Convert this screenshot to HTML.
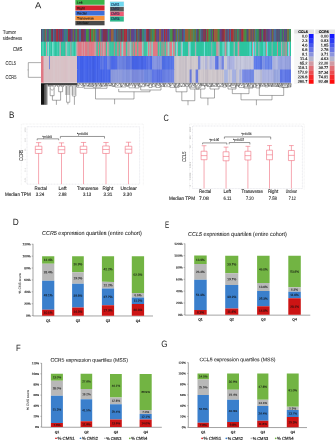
<!DOCTYPE html>
<html><head><meta charset="utf-8"><style>
html,body{margin:0;padding:0;background:#fff;width:336px;height:440px;overflow:hidden;}
svg{display:block;will-change:transform;}
text{font-family:"Liberation Sans", sans-serif;text-rendering:geometricPrecision;}
</style></head><body>
<svg width="336" height="440" viewBox="0 0 336 440">
<defs><linearGradient id="hg" x1="0" y1="0" x2="0" y2="1">
<stop offset="0" stop-color="#1a28ff"/><stop offset="0.5" stop-color="#c8c8d4"/><stop offset="1" stop-color="#ff1010"/></linearGradient>
<linearGradient id="dg" x1="0" y1="0" x2="1" y2="0"><stop offset="0" stop-color="#202020"/><stop offset="1" stop-color="#c0c0c0"/></linearGradient></defs>
<rect width="336" height="440" fill="#fff"/>
<g transform="matrix(1 0.0005 0 1 0 -0.08)">
<text x="35.00" y="8.30" font-size="8.8" fill="#222" textLength="6.30" lengthAdjust="spacingAndGlyphs">A</text>
<rect x="75.10" y="-1.00" width="29.70" height="26.50" fill="#e8e8e8"/>
<rect x="75.40" y="0.00" width="29.10" height="4.80" fill="#3cb54a"/>
<text x="76.90" y="3.70" font-size="3.4" fill="#1a1a1a" stroke="#1a1a1a" stroke-width="0.1">Left</text>
<rect x="75.40" y="5.60" width="29.10" height="5.00" fill="#d42530"/>
<text x="76.90" y="9.50" font-size="3.4" fill="#1a1a1a" stroke="#1a1a1a" stroke-width="0.1">Right</text>
<rect x="75.40" y="11.00" width="29.10" height="4.60" fill="#3d6fd8"/>
<text x="76.90" y="14.50" font-size="3.4" fill="#1a1a1a" stroke="#1a1a1a" stroke-width="0.1">Rectal</text>
<rect x="75.40" y="16.00" width="29.10" height="4.60" fill="#f6923c"/>
<text x="76.90" y="19.50" font-size="3.4" fill="#1a1a1a" stroke="#1a1a1a" stroke-width="0.1">Transverse</text>
<rect x="75.40" y="21.00" width="29.10" height="4.20" fill="#4a4a4a"/>
<text x="76.90" y="24.10" font-size="3.4" fill="#1a1a1a" stroke="#1a1a1a" stroke-width="0.1">Unclear</text>
<rect x="109.80" y="1.50" width="14.30" height="20.20" fill="#e8e8e8"/>
<rect x="110.10" y="1.80" width="13.70" height="4.80" fill="#70d8f0"/>
<text x="111.00" y="5.60" font-size="3.9" fill="#1a2a55" textLength="8.50" lengthAdjust="spacingAndGlyphs" stroke="#1a2a55" stroke-width="0.12">CMS1</text>
<rect x="110.10" y="7.00" width="13.70" height="4.40" fill="#5a5a5a"/>
<text x="111.00" y="10.40" font-size="3.9" fill="#1a2a55" textLength="8.50" lengthAdjust="spacingAndGlyphs" stroke="#1a2a55" stroke-width="0.12">CMS2</text>
<rect x="110.10" y="11.80" width="13.70" height="4.40" fill="#ee5a74"/>
<text x="111.00" y="15.20" font-size="3.9" fill="#1a2a55" textLength="8.50" lengthAdjust="spacingAndGlyphs" stroke="#1a2a55" stroke-width="0.12">CMS3</text>
<rect x="110.10" y="16.60" width="13.70" height="4.80" fill="#2cb98c"/>
<text x="111.00" y="20.40" font-size="3.9" fill="#1a2a55" textLength="8.50" lengthAdjust="spacingAndGlyphs" stroke="#1a2a55" stroke-width="0.12">CMS4</text>
<text x="2.70" y="33.90" font-size="5.6" fill="#303030" textLength="13.40" lengthAdjust="spacingAndGlyphs" stroke="#303030" stroke-width="0.08">Tumor</text>
<text x="2.70" y="39.80" font-size="5.6" fill="#303030" textLength="19.60" lengthAdjust="spacingAndGlyphs" stroke="#303030" stroke-width="0.08">sidedness</text>
<text x="12.90" y="51.30" font-size="5.6" fill="#303030" textLength="9.40" lengthAdjust="spacingAndGlyphs" stroke="#303030" stroke-width="0.08">CMS</text>
<text x="5.50" y="65.00" font-size="5.6" fill="#303030" textLength="10.50" lengthAdjust="spacingAndGlyphs" stroke="#303030" stroke-width="0.08">CCL5</text>
<text x="5.50" y="79.00" font-size="5.6" fill="#303030" textLength="11.00" lengthAdjust="spacingAndGlyphs" stroke="#303030" stroke-width="0.08">CCR5</text>
<rect x="41.00" y="29.00" width="1.80" height="13.30" fill="#525274"/>
<rect x="42.20" y="29.00" width="2.10" height="13.30" fill="#426e98"/>
<rect x="43.70" y="29.00" width="1.40" height="13.30" fill="#409048"/>
<rect x="44.50" y="29.00" width="1.40" height="13.30" fill="#60448a"/>
<rect x="45.30" y="29.00" width="1.40" height="13.30" fill="#98603a"/>
<rect x="46.10" y="29.00" width="1.60" height="13.30" fill="#348a6e"/>
<rect x="47.10" y="29.00" width="2.10" height="13.30" fill="#60448a"/>
<rect x="48.60" y="29.00" width="1.60" height="13.30" fill="#348a6e"/>
<rect x="49.60" y="29.00" width="2.10" height="13.30" fill="#348a6e"/>
<rect x="51.10" y="29.00" width="2.60" height="13.30" fill="#7e3450"/>
<rect x="53.10" y="29.00" width="1.60" height="13.30" fill="#426e98"/>
<rect x="54.10" y="29.00" width="2.60" height="13.30" fill="#525274"/>
<rect x="56.10" y="29.00" width="2.60" height="13.30" fill="#a82c3a"/>
<rect x="58.10" y="29.00" width="1.40" height="13.30" fill="#525274"/>
<rect x="58.90" y="29.00" width="1.40" height="13.30" fill="#a82c3a"/>
<rect x="59.70" y="29.00" width="1.60" height="13.30" fill="#60448a"/>
<rect x="60.70" y="29.00" width="1.60" height="13.30" fill="#a82c3a"/>
<rect x="61.70" y="29.00" width="2.60" height="13.30" fill="#60448a"/>
<rect x="63.70" y="29.00" width="1.60" height="13.30" fill="#348a6e"/>
<rect x="64.70" y="29.00" width="2.60" height="13.30" fill="#426e98"/>
<rect x="66.70" y="29.00" width="1.80" height="13.30" fill="#348a6e"/>
<rect x="67.90" y="29.00" width="1.40" height="13.30" fill="#a82c3a"/>
<rect x="68.70" y="29.00" width="2.60" height="13.30" fill="#7e3450"/>
<rect x="70.70" y="29.00" width="2.60" height="13.30" fill="#60448a"/>
<rect x="72.70" y="29.00" width="1.80" height="13.30" fill="#6e743a"/>
<rect x="73.90" y="29.00" width="2.10" height="13.30" fill="#60448a"/>
<rect x="75.40" y="29.00" width="1.60" height="13.30" fill="#409048"/>
<rect x="76.40" y="29.00" width="1.60" height="13.30" fill="#348a6e"/>
<rect x="77.40" y="29.00" width="1.80" height="13.30" fill="#a82c3a"/>
<rect x="78.60" y="29.00" width="1.80" height="13.30" fill="#426e98"/>
<rect x="79.80" y="29.00" width="1.80" height="13.30" fill="#426e98"/>
<rect x="81.00" y="29.00" width="1.40" height="13.30" fill="#7e3450"/>
<rect x="81.80" y="29.00" width="2.10" height="13.30" fill="#7e3450"/>
<rect x="83.30" y="29.00" width="1.80" height="13.30" fill="#7e3450"/>
<rect x="84.50" y="29.00" width="2.10" height="13.30" fill="#60448a"/>
<rect x="86.00" y="29.00" width="1.40" height="13.30" fill="#409048"/>
<rect x="86.80" y="29.00" width="2.60" height="13.30" fill="#409048"/>
<rect x="88.80" y="29.00" width="1.80" height="13.30" fill="#60448a"/>
<rect x="90.00" y="29.00" width="1.80" height="13.30" fill="#a82c3a"/>
<rect x="91.20" y="29.00" width="2.60" height="13.30" fill="#409048"/>
<rect x="93.20" y="29.00" width="1.40" height="13.30" fill="#98603a"/>
<rect x="94.00" y="29.00" width="1.80" height="13.30" fill="#6e743a"/>
<rect x="95.20" y="29.00" width="1.40" height="13.30" fill="#348a6e"/>
<rect x="96.00" y="29.00" width="1.80" height="13.30" fill="#426e98"/>
<rect x="97.20" y="29.00" width="2.10" height="13.30" fill="#60448a"/>
<rect x="98.70" y="29.00" width="2.10" height="13.30" fill="#98603a"/>
<rect x="100.20" y="29.00" width="1.80" height="13.30" fill="#348a6e"/>
<rect x="101.40" y="29.00" width="2.10" height="13.30" fill="#60448a"/>
<rect x="102.90" y="29.00" width="2.60" height="13.30" fill="#7e3450"/>
<rect x="104.90" y="29.00" width="1.40" height="13.30" fill="#7e3450"/>
<rect x="105.70" y="29.00" width="1.80" height="13.30" fill="#7e3450"/>
<rect x="106.90" y="29.00" width="1.60" height="13.30" fill="#60448a"/>
<rect x="107.90" y="29.00" width="2.10" height="13.30" fill="#348a6e"/>
<rect x="109.40" y="29.00" width="2.10" height="13.30" fill="#60448a"/>
<rect x="110.90" y="29.00" width="1.80" height="13.30" fill="#98603a"/>
<rect x="112.10" y="29.00" width="2.10" height="13.30" fill="#98603a"/>
<rect x="113.60" y="29.00" width="1.80" height="13.30" fill="#426e98"/>
<rect x="114.80" y="29.00" width="1.80" height="13.30" fill="#426e98"/>
<rect x="116.00" y="29.00" width="2.10" height="13.30" fill="#525274"/>
<rect x="117.50" y="29.00" width="1.60" height="13.30" fill="#348a6e"/>
<rect x="118.50" y="29.00" width="1.60" height="13.30" fill="#7e3450"/>
<rect x="119.50" y="29.00" width="1.60" height="13.30" fill="#348a6e"/>
<rect x="120.50" y="29.00" width="2.60" height="13.30" fill="#7e3450"/>
<rect x="122.50" y="29.00" width="1.80" height="13.30" fill="#348a6e"/>
<rect x="123.70" y="29.00" width="2.10" height="13.30" fill="#a82c3a"/>
<rect x="125.20" y="29.00" width="2.60" height="13.30" fill="#a82c3a"/>
<rect x="127.20" y="29.00" width="1.60" height="13.30" fill="#426e98"/>
<rect x="128.20" y="29.00" width="2.60" height="13.30" fill="#525274"/>
<rect x="130.20" y="29.00" width="1.40" height="13.30" fill="#6e743a"/>
<rect x="131.00" y="29.00" width="2.60" height="13.30" fill="#60448a"/>
<rect x="133.00" y="29.00" width="2.10" height="13.30" fill="#60448a"/>
<rect x="134.50" y="29.00" width="2.10" height="13.30" fill="#426e98"/>
<rect x="136.00" y="29.00" width="1.40" height="13.30" fill="#7e3450"/>
<rect x="136.80" y="29.00" width="1.60" height="13.30" fill="#6e743a"/>
<rect x="137.80" y="29.00" width="1.40" height="13.30" fill="#60448a"/>
<rect x="138.60" y="29.00" width="1.40" height="13.30" fill="#348a6e"/>
<rect x="139.40" y="29.00" width="2.60" height="13.30" fill="#7e3450"/>
<rect x="141.40" y="29.00" width="1.40" height="13.30" fill="#525274"/>
<rect x="142.20" y="29.00" width="2.60" height="13.30" fill="#348a6e"/>
<rect x="144.20" y="29.00" width="1.60" height="13.30" fill="#426e98"/>
<rect x="145.20" y="29.00" width="1.60" height="13.30" fill="#426e98"/>
<rect x="146.20" y="29.00" width="1.80" height="13.30" fill="#a82c3a"/>
<rect x="147.40" y="29.00" width="2.10" height="13.30" fill="#7e3450"/>
<rect x="148.90" y="29.00" width="2.10" height="13.30" fill="#525274"/>
<rect x="150.40" y="29.00" width="2.10" height="13.30" fill="#6e743a"/>
<rect x="151.90" y="29.00" width="1.80" height="13.30" fill="#348a6e"/>
<rect x="153.10" y="29.00" width="1.40" height="13.30" fill="#409048"/>
<rect x="153.90" y="29.00" width="1.80" height="13.30" fill="#6e743a"/>
<rect x="155.10" y="29.00" width="1.60" height="13.30" fill="#a82c3a"/>
<rect x="156.10" y="29.00" width="1.60" height="13.30" fill="#525274"/>
<rect x="157.10" y="29.00" width="2.60" height="13.30" fill="#60448a"/>
<rect x="159.10" y="29.00" width="2.60" height="13.30" fill="#98603a"/>
<rect x="161.10" y="29.00" width="2.60" height="13.30" fill="#60448a"/>
<rect x="163.10" y="29.00" width="1.40" height="13.30" fill="#426e98"/>
<rect x="163.90" y="29.00" width="1.80" height="13.30" fill="#a82c3a"/>
<rect x="165.10" y="29.00" width="1.60" height="13.30" fill="#60448a"/>
<rect x="166.10" y="29.00" width="1.60" height="13.30" fill="#a82c3a"/>
<rect x="167.10" y="29.00" width="2.60" height="13.30" fill="#60448a"/>
<rect x="169.10" y="29.00" width="1.60" height="13.30" fill="#426e98"/>
<rect x="170.10" y="29.00" width="1.60" height="13.30" fill="#409048"/>
<rect x="171.10" y="29.00" width="2.10" height="13.30" fill="#409048"/>
<rect x="172.60" y="29.00" width="1.60" height="13.30" fill="#7e3450"/>
<rect x="173.60" y="29.00" width="2.10" height="13.30" fill="#60448a"/>
<rect x="175.10" y="29.00" width="1.40" height="13.30" fill="#525274"/>
<rect x="175.90" y="29.00" width="1.80" height="13.30" fill="#6e743a"/>
<rect x="177.10" y="29.00" width="1.60" height="13.30" fill="#426e98"/>
<rect x="178.10" y="29.00" width="1.80" height="13.30" fill="#6e743a"/>
<rect x="179.30" y="29.00" width="1.80" height="13.30" fill="#525274"/>
<rect x="180.50" y="29.00" width="1.80" height="13.30" fill="#348a6e"/>
<rect x="181.70" y="29.00" width="1.40" height="13.30" fill="#7e3450"/>
<rect x="182.50" y="29.00" width="1.60" height="13.30" fill="#60448a"/>
<rect x="183.50" y="29.00" width="2.10" height="13.30" fill="#426e98"/>
<rect x="185.00" y="29.00" width="2.60" height="13.30" fill="#98603a"/>
<rect x="187.00" y="29.00" width="2.10" height="13.30" fill="#98603a"/>
<rect x="188.50" y="29.00" width="1.80" height="13.30" fill="#409048"/>
<rect x="189.70" y="29.00" width="1.40" height="13.30" fill="#98603a"/>
<rect x="190.50" y="29.00" width="1.40" height="13.30" fill="#98603a"/>
<rect x="191.30" y="29.00" width="1.60" height="13.30" fill="#6e743a"/>
<rect x="192.30" y="29.00" width="1.60" height="13.30" fill="#6e743a"/>
<rect x="193.30" y="29.00" width="1.80" height="13.30" fill="#348a6e"/>
<rect x="194.50" y="29.00" width="2.10" height="13.30" fill="#6e743a"/>
<rect x="196.00" y="29.00" width="1.40" height="13.30" fill="#426e98"/>
<rect x="196.80" y="29.00" width="1.60" height="13.30" fill="#525274"/>
<rect x="197.80" y="29.00" width="1.40" height="13.30" fill="#7e3450"/>
<rect x="198.60" y="29.00" width="2.10" height="13.30" fill="#409048"/>
<rect x="200.10" y="29.00" width="1.60" height="13.30" fill="#426e98"/>
<rect x="201.10" y="29.00" width="2.60" height="13.30" fill="#525274"/>
<rect x="203.10" y="29.00" width="1.80" height="13.30" fill="#7e3450"/>
<rect x="204.30" y="29.00" width="2.60" height="13.30" fill="#7e3450"/>
<rect x="206.30" y="29.00" width="1.40" height="13.30" fill="#409048"/>
<rect x="207.10" y="29.00" width="1.40" height="13.30" fill="#a82c3a"/>
<rect x="207.90" y="29.00" width="1.60" height="13.30" fill="#6e743a"/>
<rect x="208.90" y="29.00" width="1.60" height="13.30" fill="#409048"/>
<rect x="209.90" y="29.00" width="1.60" height="13.30" fill="#348a6e"/>
<rect x="210.90" y="29.00" width="1.60" height="13.30" fill="#60448a"/>
<rect x="211.90" y="29.00" width="1.60" height="13.30" fill="#409048"/>
<rect x="212.90" y="29.00" width="1.80" height="13.30" fill="#7e3450"/>
<rect x="214.10" y="29.00" width="2.10" height="13.30" fill="#98603a"/>
<rect x="215.60" y="29.00" width="1.40" height="13.30" fill="#98603a"/>
<rect x="216.40" y="29.00" width="1.80" height="13.30" fill="#98603a"/>
<rect x="217.60" y="29.00" width="2.60" height="13.30" fill="#409048"/>
<rect x="219.60" y="29.00" width="2.60" height="13.30" fill="#60448a"/>
<rect x="221.60" y="29.00" width="2.60" height="13.30" fill="#7e3450"/>
<rect x="223.60" y="29.00" width="1.60" height="13.30" fill="#a82c3a"/>
<rect x="224.60" y="29.00" width="1.40" height="13.30" fill="#98603a"/>
<rect x="225.40" y="29.00" width="1.60" height="13.30" fill="#426e98"/>
<rect x="226.40" y="29.00" width="1.60" height="13.30" fill="#7e3450"/>
<rect x="227.40" y="29.00" width="2.10" height="13.30" fill="#426e98"/>
<rect x="228.90" y="29.00" width="1.40" height="13.30" fill="#a82c3a"/>
<rect x="229.70" y="29.00" width="1.80" height="13.30" fill="#426e98"/>
<rect x="230.90" y="29.00" width="2.60" height="13.30" fill="#a82c3a"/>
<rect x="232.90" y="29.00" width="1.40" height="13.30" fill="#98603a"/>
<rect x="233.70" y="29.00" width="1.40" height="13.30" fill="#7e3450"/>
<rect x="234.50" y="29.00" width="1.80" height="13.30" fill="#348a6e"/>
<rect x="235.70" y="29.00" width="1.40" height="13.30" fill="#a82c3a"/>
<rect x="236.50" y="29.00" width="2.60" height="13.30" fill="#348a6e"/>
<rect x="238.50" y="29.00" width="1.40" height="13.30" fill="#6e743a"/>
<rect x="239.30" y="29.00" width="2.60" height="13.30" fill="#525274"/>
<rect x="241.30" y="29.00" width="2.60" height="13.30" fill="#a82c3a"/>
<rect x="243.30" y="29.00" width="1.80" height="13.30" fill="#6e743a"/>
<rect x="244.50" y="29.00" width="2.60" height="13.30" fill="#409048"/>
<rect x="246.50" y="29.00" width="2.60" height="13.30" fill="#525274"/>
<rect x="248.50" y="29.00" width="2.60" height="13.30" fill="#98603a"/>
<rect x="250.50" y="29.00" width="1.80" height="13.30" fill="#525274"/>
<rect x="251.70" y="29.00" width="1.60" height="13.30" fill="#98603a"/>
<rect x="252.70" y="29.00" width="1.60" height="13.30" fill="#60448a"/>
<rect x="253.70" y="29.00" width="2.10" height="13.30" fill="#6e743a"/>
<rect x="255.20" y="29.00" width="1.40" height="13.30" fill="#426e98"/>
<rect x="256.00" y="29.00" width="2.10" height="13.30" fill="#348a6e"/>
<rect x="257.50" y="29.00" width="1.80" height="13.30" fill="#409048"/>
<rect x="258.70" y="29.00" width="1.60" height="13.30" fill="#525274"/>
<rect x="259.70" y="29.00" width="1.80" height="13.30" fill="#7e3450"/>
<rect x="260.90" y="29.00" width="1.60" height="13.30" fill="#525274"/>
<rect x="261.90" y="29.00" width="1.60" height="13.30" fill="#409048"/>
<rect x="262.90" y="29.00" width="1.40" height="13.30" fill="#60448a"/>
<rect x="263.70" y="29.00" width="2.10" height="13.30" fill="#7e3450"/>
<rect x="265.20" y="29.00" width="1.60" height="13.30" fill="#7e3450"/>
<rect x="266.20" y="29.00" width="2.10" height="13.30" fill="#525274"/>
<rect x="267.70" y="29.00" width="2.10" height="13.30" fill="#60448a"/>
<rect x="269.20" y="29.00" width="1.60" height="13.30" fill="#60448a"/>
<rect x="270.20" y="29.00" width="1.40" height="13.30" fill="#426e98"/>
<rect x="271.00" y="29.00" width="1.40" height="13.30" fill="#60448a"/>
<rect x="271.80" y="29.00" width="2.10" height="13.30" fill="#6e743a"/>
<rect x="273.30" y="29.00" width="1.40" height="13.30" fill="#60448a"/>
<rect x="274.10" y="29.00" width="2.60" height="13.30" fill="#426e98"/>
<rect x="276.10" y="29.00" width="2.60" height="13.30" fill="#525274"/>
<rect x="278.10" y="29.00" width="1.40" height="13.30" fill="#525274"/>
<rect x="278.90" y="29.00" width="1.60" height="13.30" fill="#525274"/>
<rect x="279.90" y="29.00" width="1.40" height="13.30" fill="#348a6e"/>
<rect x="280.70" y="29.00" width="1.80" height="13.30" fill="#348a6e"/>
<rect x="281.90" y="29.00" width="1.60" height="13.30" fill="#60448a"/>
<rect x="282.90" y="29.00" width="1.60" height="13.30" fill="#409048"/>
<rect x="283.90" y="29.00" width="1.80" height="13.30" fill="#60448a"/>
<rect x="285.10" y="29.00" width="2.60" height="13.30" fill="#525274"/>
<rect x="287.10" y="29.00" width="2.60" height="13.30" fill="#6e743a"/>
<rect x="289.10" y="29.00" width="1.80" height="13.30" fill="#348a6e"/>
<rect x="290.30" y="29.00" width="0.70" height="13.30" fill="#409048"/>
<rect x="41.00" y="41.80" width="1.40" height="14.70" fill="#2cc4a0"/>
<rect x="41.80" y="41.80" width="1.40" height="14.70" fill="#2cc4a0"/>
<rect x="42.60" y="41.80" width="1.40" height="14.70" fill="#7ee0d0"/>
<rect x="43.40" y="41.80" width="1.60" height="14.70" fill="#2cc4a0"/>
<rect x="44.40" y="41.80" width="1.40" height="14.70" fill="#2cc4a0"/>
<rect x="45.20" y="41.80" width="1.40" height="14.70" fill="#2cc4a0"/>
<rect x="46.00" y="41.80" width="1.60" height="14.70" fill="#c8a0a8"/>
<rect x="47.00" y="41.80" width="1.60" height="14.70" fill="#50d0b8"/>
<rect x="48.00" y="41.80" width="1.60" height="14.70" fill="#7ee0d0"/>
<rect x="49.00" y="41.80" width="1.40" height="14.70" fill="#2cc4a0"/>
<rect x="49.80" y="41.80" width="1.40" height="14.70" fill="#50d0b8"/>
<rect x="50.60" y="41.80" width="1.40" height="14.70" fill="#2cc4a0"/>
<rect x="51.40" y="41.80" width="1.40" height="14.70" fill="#2cc4a0"/>
<rect x="52.20" y="41.80" width="1.60" height="14.70" fill="#7ee0d0"/>
<rect x="53.20" y="41.80" width="1.90" height="14.70" fill="#50d0b8"/>
<rect x="54.50" y="41.80" width="1.60" height="14.70" fill="#2cc4a0"/>
<rect x="55.50" y="41.80" width="1.90" height="14.70" fill="#2cc4a0"/>
<rect x="56.80" y="41.80" width="1.60" height="14.70" fill="#50d0b8"/>
<rect x="57.80" y="41.80" width="1.60" height="14.70" fill="#2cc4a0"/>
<rect x="58.80" y="41.80" width="1.40" height="14.70" fill="#50d0b8"/>
<rect x="59.60" y="41.80" width="1.90" height="14.70" fill="#c8a0a8"/>
<rect x="60.90" y="41.80" width="1.90" height="14.70" fill="#2cc4a0"/>
<rect x="62.20" y="41.80" width="1.60" height="14.70" fill="#2cc4a0"/>
<rect x="63.20" y="41.80" width="1.90" height="14.70" fill="#2cc4a0"/>
<rect x="64.50" y="41.80" width="1.60" height="14.70" fill="#2cc4a0"/>
<rect x="65.50" y="41.80" width="1.60" height="14.70" fill="#c8a0a8"/>
<rect x="66.50" y="41.80" width="1.60" height="14.70" fill="#7ee0d0"/>
<rect x="67.50" y="41.80" width="1.40" height="14.70" fill="#2cc4a0"/>
<rect x="68.30" y="41.80" width="1.90" height="14.70" fill="#50d0b8"/>
<rect x="69.60" y="41.80" width="1.40" height="14.70" fill="#2cc4a0"/>
<rect x="70.40" y="41.80" width="1.60" height="14.70" fill="#c8a0a8"/>
<rect x="71.40" y="41.80" width="1.40" height="14.70" fill="#2cc4a0"/>
<rect x="72.20" y="41.80" width="1.90" height="14.70" fill="#50d0b8"/>
<rect x="73.50" y="41.80" width="1.60" height="14.70" fill="#2cc4a0"/>
<rect x="74.50" y="41.80" width="1.40" height="14.70" fill="#2cc4a0"/>
<rect x="75.30" y="41.80" width="1.60" height="14.70" fill="#50d0b8"/>
<rect x="76.30" y="41.80" width="1.90" height="14.70" fill="#c8a0a8"/>
<rect x="77.60" y="41.80" width="1.90" height="14.70" fill="#e07884"/>
<rect x="78.90" y="41.80" width="1.60" height="14.70" fill="#e07884"/>
<rect x="79.90" y="41.80" width="1.40" height="14.70" fill="#e07884"/>
<rect x="80.70" y="41.80" width="1.60" height="14.70" fill="#e07884"/>
<rect x="81.70" y="41.80" width="1.60" height="14.70" fill="#d0a0a8"/>
<rect x="82.70" y="41.80" width="1.90" height="14.70" fill="#e07884"/>
<rect x="84.00" y="41.80" width="1.40" height="14.70" fill="#d0a0a8"/>
<rect x="84.80" y="41.80" width="1.60" height="14.70" fill="#e07884"/>
<rect x="85.80" y="41.80" width="1.40" height="14.70" fill="#e07884"/>
<rect x="86.60" y="41.80" width="1.60" height="14.70" fill="#e07884"/>
<rect x="87.60" y="41.80" width="1.60" height="14.70" fill="#a8a0a0"/>
<rect x="88.60" y="41.80" width="1.40" height="14.70" fill="#e07884"/>
<rect x="89.40" y="41.80" width="1.40" height="14.70" fill="#e07884"/>
<rect x="90.20" y="41.80" width="1.40" height="14.70" fill="#e07884"/>
<rect x="91.00" y="41.80" width="1.90" height="14.70" fill="#e07884"/>
<rect x="92.30" y="41.80" width="1.40" height="14.70" fill="#e07884"/>
<rect x="93.10" y="41.80" width="1.90" height="14.70" fill="#e07884"/>
<rect x="94.40" y="41.80" width="1.90" height="14.70" fill="#d0a0a8"/>
<rect x="95.70" y="41.80" width="1.40" height="14.70" fill="#a8a0a0"/>
<rect x="96.50" y="41.80" width="1.90" height="14.70" fill="#3cc4a0"/>
<rect x="97.80" y="41.80" width="1.90" height="14.70" fill="#e07884"/>
<rect x="99.10" y="41.80" width="1.60" height="14.70" fill="#3cc4a0"/>
<rect x="100.10" y="41.80" width="1.60" height="14.70" fill="#e07884"/>
<rect x="101.10" y="41.80" width="1.90" height="14.70" fill="#a8a0a0"/>
<rect x="102.40" y="41.80" width="1.40" height="14.70" fill="#e07884"/>
<rect x="103.20" y="41.80" width="1.90" height="14.70" fill="#d0a0a8"/>
<rect x="104.50" y="41.80" width="1.90" height="14.70" fill="#e07884"/>
<rect x="105.80" y="41.80" width="1.90" height="14.70" fill="#3cc4a0"/>
<rect x="107.10" y="41.80" width="1.40" height="14.70" fill="#d0a0a8"/>
<rect x="107.90" y="41.80" width="1.90" height="14.70" fill="#a8a0a0"/>
<rect x="109.20" y="41.80" width="1.40" height="14.70" fill="#3cc4a0"/>
<rect x="110.00" y="41.80" width="1.90" height="14.70" fill="#3cc4a0"/>
<rect x="111.30" y="41.80" width="1.90" height="14.70" fill="#3cc4a0"/>
<rect x="112.60" y="41.80" width="1.90" height="14.70" fill="#3cc4a0"/>
<rect x="113.90" y="41.80" width="1.40" height="14.70" fill="#e07884"/>
<rect x="114.70" y="41.80" width="1.40" height="14.70" fill="#3cc4a0"/>
<rect x="115.50" y="41.80" width="1.40" height="14.70" fill="#3cc4a0"/>
<rect x="116.30" y="41.80" width="1.60" height="14.70" fill="#3cc4a0"/>
<rect x="117.30" y="41.80" width="1.90" height="14.70" fill="#e07884"/>
<rect x="118.60" y="41.80" width="1.90" height="14.70" fill="#3cc4a0"/>
<rect x="119.90" y="41.80" width="1.60" height="14.70" fill="#e07884"/>
<rect x="120.90" y="41.80" width="1.60" height="14.70" fill="#a0a8a8"/>
<rect x="121.90" y="41.80" width="1.90" height="14.70" fill="#80d8c8"/>
<rect x="123.20" y="41.80" width="1.90" height="14.70" fill="#e07884"/>
<rect x="124.50" y="41.80" width="1.90" height="14.70" fill="#e07884"/>
<rect x="125.80" y="41.80" width="1.90" height="14.70" fill="#3cc4a0"/>
<rect x="127.10" y="41.80" width="1.40" height="14.70" fill="#a0a8a8"/>
<rect x="127.90" y="41.80" width="1.40" height="14.70" fill="#a0a8a8"/>
<rect x="128.70" y="41.80" width="1.40" height="14.70" fill="#e07884"/>
<rect x="129.50" y="41.80" width="1.90" height="14.70" fill="#80d8c8"/>
<rect x="130.80" y="41.80" width="1.60" height="14.70" fill="#a0a8a8"/>
<rect x="131.80" y="41.80" width="1.40" height="14.70" fill="#3cc4a0"/>
<rect x="132.60" y="41.80" width="1.90" height="14.70" fill="#e07884"/>
<rect x="133.90" y="41.80" width="1.40" height="14.70" fill="#3cc4a0"/>
<rect x="134.70" y="41.80" width="1.90" height="14.70" fill="#e07884"/>
<rect x="136.00" y="41.80" width="1.90" height="14.70" fill="#e07884"/>
<rect x="137.30" y="41.80" width="1.60" height="14.70" fill="#3cc4a0"/>
<rect x="138.30" y="41.80" width="1.90" height="14.70" fill="#e07884"/>
<rect x="139.60" y="41.80" width="1.90" height="14.70" fill="#e07884"/>
<rect x="140.90" y="41.80" width="1.60" height="14.70" fill="#e07884"/>
<rect x="141.90" y="41.80" width="1.60" height="14.70" fill="#80d8c8"/>
<rect x="142.90" y="41.80" width="1.40" height="14.70" fill="#a0a8a8"/>
<rect x="143.70" y="41.80" width="1.90" height="14.70" fill="#3cc4a0"/>
<rect x="145.00" y="41.80" width="1.90" height="14.70" fill="#3cc4a0"/>
<rect x="146.30" y="41.80" width="1.60" height="14.70" fill="#3cc4a0"/>
<rect x="147.30" y="41.80" width="1.40" height="14.70" fill="#80d8c8"/>
<rect x="148.10" y="41.80" width="1.90" height="14.70" fill="#e07884"/>
<rect x="149.40" y="41.80" width="1.40" height="14.70" fill="#80d8c8"/>
<rect x="150.20" y="41.80" width="1.40" height="14.70" fill="#e07884"/>
<rect x="151.00" y="41.80" width="1.40" height="14.70" fill="#a0a8a8"/>
<rect x="151.80" y="41.80" width="1.60" height="14.70" fill="#80d8c8"/>
<rect x="152.80" y="41.80" width="1.60" height="14.70" fill="#e07884"/>
<rect x="153.80" y="41.80" width="1.40" height="14.70" fill="#e07884"/>
<rect x="154.60" y="41.80" width="1.40" height="14.70" fill="#e07884"/>
<rect x="155.40" y="41.80" width="1.90" height="14.70" fill="#e07884"/>
<rect x="156.70" y="41.80" width="1.60" height="14.70" fill="#e07884"/>
<rect x="157.70" y="41.80" width="1.90" height="14.70" fill="#3cc4a0"/>
<rect x="159.00" y="41.80" width="1.40" height="14.70" fill="#a0a8a8"/>
<rect x="159.80" y="41.80" width="1.40" height="14.70" fill="#3cc4a0"/>
<rect x="160.60" y="41.80" width="1.60" height="14.70" fill="#3cc4a0"/>
<rect x="161.60" y="41.80" width="1.40" height="14.70" fill="#e07884"/>
<rect x="162.40" y="41.80" width="1.60" height="14.70" fill="#3cc4a0"/>
<rect x="163.40" y="41.80" width="1.60" height="14.70" fill="#e07884"/>
<rect x="164.40" y="41.80" width="1.40" height="14.70" fill="#3cc4a0"/>
<rect x="165.20" y="41.80" width="1.60" height="14.70" fill="#3cc4a0"/>
<rect x="166.20" y="41.80" width="1.60" height="14.70" fill="#e07884"/>
<rect x="167.20" y="41.80" width="1.60" height="14.70" fill="#a0a8a8"/>
<rect x="168.20" y="41.80" width="1.40" height="14.70" fill="#80d8c8"/>
<rect x="169.00" y="41.80" width="1.40" height="14.70" fill="#a0a8a8"/>
<rect x="169.80" y="41.80" width="1.90" height="14.70" fill="#e07884"/>
<rect x="171.10" y="41.80" width="1.60" height="14.70" fill="#e07884"/>
<rect x="172.10" y="41.80" width="1.60" height="14.70" fill="#80d8c8"/>
<rect x="173.10" y="41.80" width="1.90" height="14.70" fill="#e07884"/>
<rect x="174.40" y="41.80" width="1.60" height="14.70" fill="#a0a8a8"/>
<rect x="175.40" y="41.80" width="1.40" height="14.70" fill="#2cc4a0"/>
<rect x="176.20" y="41.80" width="1.40" height="14.70" fill="#80e0e0"/>
<rect x="177.00" y="41.80" width="1.60" height="14.70" fill="#a8b0b0"/>
<rect x="178.00" y="41.80" width="1.40" height="14.70" fill="#2cc4a0"/>
<rect x="178.80" y="41.80" width="1.60" height="14.70" fill="#2cc4a0"/>
<rect x="179.80" y="41.80" width="1.60" height="14.70" fill="#2cc4a0"/>
<rect x="180.80" y="41.80" width="1.60" height="14.70" fill="#a8b0b0"/>
<rect x="181.80" y="41.80" width="1.60" height="14.70" fill="#80e0e0"/>
<rect x="182.80" y="41.80" width="1.90" height="14.70" fill="#2cc4a0"/>
<rect x="184.10" y="41.80" width="1.90" height="14.70" fill="#2cc4a0"/>
<rect x="185.40" y="41.80" width="1.90" height="14.70" fill="#2cc4a0"/>
<rect x="186.70" y="41.80" width="1.90" height="14.70" fill="#2cc4a0"/>
<rect x="188.00" y="41.80" width="1.90" height="14.70" fill="#a8b0b0"/>
<rect x="189.30" y="41.80" width="1.90" height="14.70" fill="#80e0e0"/>
<rect x="190.60" y="41.80" width="1.60" height="14.70" fill="#2cc4a0"/>
<rect x="191.60" y="41.80" width="1.90" height="14.70" fill="#2cc4a0"/>
<rect x="192.90" y="41.80" width="1.60" height="14.70" fill="#2cc4a0"/>
<rect x="193.90" y="41.80" width="1.60" height="14.70" fill="#2cc4a0"/>
<rect x="194.90" y="41.80" width="1.90" height="14.70" fill="#a8b0b0"/>
<rect x="196.20" y="41.80" width="1.90" height="14.70" fill="#2cc4a0"/>
<rect x="197.50" y="41.80" width="1.90" height="14.70" fill="#2cc4a0"/>
<rect x="198.80" y="41.80" width="1.60" height="14.70" fill="#2cc4a0"/>
<rect x="199.80" y="41.80" width="1.60" height="14.70" fill="#2cc4a0"/>
<rect x="200.80" y="41.80" width="1.90" height="14.70" fill="#2cc4a0"/>
<rect x="202.10" y="41.80" width="1.40" height="14.70" fill="#2cc4a0"/>
<rect x="202.90" y="41.80" width="1.60" height="14.70" fill="#2cc4a0"/>
<rect x="203.90" y="41.80" width="1.60" height="14.70" fill="#80e0e0"/>
<rect x="204.90" y="41.80" width="1.60" height="14.70" fill="#2cc4a0"/>
<rect x="205.90" y="41.80" width="1.90" height="14.70" fill="#2cc4a0"/>
<rect x="207.20" y="41.80" width="1.40" height="14.70" fill="#2cc4a0"/>
<rect x="208.00" y="41.80" width="1.90" height="14.70" fill="#2cc4a0"/>
<rect x="209.30" y="41.80" width="1.40" height="14.70" fill="#2cc4a0"/>
<rect x="210.10" y="41.80" width="1.90" height="14.70" fill="#2cc4a0"/>
<rect x="211.40" y="41.80" width="1.40" height="14.70" fill="#a8b0b0"/>
<rect x="212.20" y="41.80" width="1.60" height="14.70" fill="#2cc4a0"/>
<rect x="213.20" y="41.80" width="1.90" height="14.70" fill="#2cc4a0"/>
<rect x="214.50" y="41.80" width="1.60" height="14.70" fill="#2cc4a0"/>
<rect x="215.50" y="41.80" width="1.40" height="14.70" fill="#2cc4a0"/>
<rect x="216.30" y="41.80" width="1.90" height="14.70" fill="#e08090"/>
<rect x="217.60" y="41.80" width="1.40" height="14.70" fill="#a8b0b0"/>
<rect x="218.40" y="41.80" width="1.90" height="14.70" fill="#a8b0b0"/>
<rect x="219.70" y="41.80" width="1.40" height="14.70" fill="#2cc4a0"/>
<rect x="220.50" y="41.80" width="1.40" height="14.70" fill="#2cc4a0"/>
<rect x="221.30" y="41.80" width="1.90" height="14.70" fill="#2cc4a0"/>
<rect x="222.60" y="41.80" width="1.60" height="14.70" fill="#80e0e0"/>
<rect x="223.60" y="41.80" width="1.40" height="14.70" fill="#2cc4a0"/>
<rect x="224.40" y="41.80" width="1.60" height="14.70" fill="#a8b0b0"/>
<rect x="225.40" y="41.80" width="1.60" height="14.70" fill="#e08090"/>
<rect x="226.40" y="41.80" width="1.60" height="14.70" fill="#2cc4a0"/>
<rect x="227.40" y="41.80" width="1.60" height="14.70" fill="#80e0e0"/>
<rect x="228.40" y="41.80" width="1.90" height="14.70" fill="#80e0e0"/>
<rect x="229.70" y="41.80" width="1.60" height="14.70" fill="#2cc4a0"/>
<rect x="230.70" y="41.80" width="1.40" height="14.70" fill="#2cc4a0"/>
<rect x="231.50" y="41.80" width="1.40" height="14.70" fill="#2cc4a0"/>
<rect x="232.30" y="41.80" width="1.90" height="14.70" fill="#2cc4a0"/>
<rect x="233.60" y="41.80" width="1.90" height="14.70" fill="#a8b0b0"/>
<rect x="234.90" y="41.80" width="1.60" height="14.70" fill="#2cc4a0"/>
<rect x="235.90" y="41.80" width="1.40" height="14.70" fill="#2cc4a0"/>
<rect x="236.70" y="41.80" width="1.40" height="14.70" fill="#2cc4a0"/>
<rect x="237.50" y="41.80" width="1.40" height="14.70" fill="#a8b0b0"/>
<rect x="238.30" y="41.80" width="1.60" height="14.70" fill="#e08090"/>
<rect x="239.30" y="41.80" width="1.90" height="14.70" fill="#2cc4a0"/>
<rect x="240.60" y="41.80" width="1.90" height="14.70" fill="#2cc4a0"/>
<rect x="241.90" y="41.80" width="1.40" height="14.70" fill="#2cc4a0"/>
<rect x="242.70" y="41.80" width="1.60" height="14.70" fill="#2cc4a0"/>
<rect x="243.70" y="41.80" width="1.90" height="14.70" fill="#2cc4a0"/>
<rect x="245.00" y="41.80" width="1.60" height="14.70" fill="#2cc4a0"/>
<rect x="246.00" y="41.80" width="1.90" height="14.70" fill="#2cc4a0"/>
<rect x="247.30" y="41.80" width="1.90" height="14.70" fill="#2cc4a0"/>
<rect x="248.60" y="41.80" width="1.60" height="14.70" fill="#2cc4a0"/>
<rect x="249.60" y="41.80" width="1.60" height="14.70" fill="#70e0f0"/>
<rect x="250.60" y="41.80" width="1.40" height="14.70" fill="#2cc4a0"/>
<rect x="251.40" y="41.80" width="1.40" height="14.70" fill="#2cc4a0"/>
<rect x="252.20" y="41.80" width="1.40" height="14.70" fill="#e08090"/>
<rect x="253.00" y="41.80" width="1.90" height="14.70" fill="#70e0f0"/>
<rect x="254.30" y="41.80" width="1.40" height="14.70" fill="#2cc4a0"/>
<rect x="255.10" y="41.80" width="1.60" height="14.70" fill="#b0a8b0"/>
<rect x="256.10" y="41.80" width="1.90" height="14.70" fill="#2cc4a0"/>
<rect x="257.40" y="41.80" width="1.60" height="14.70" fill="#2cc4a0"/>
<rect x="258.40" y="41.80" width="1.60" height="14.70" fill="#b0a8b0"/>
<rect x="259.40" y="41.80" width="1.40" height="14.70" fill="#2cc4a0"/>
<rect x="260.20" y="41.80" width="1.90" height="14.70" fill="#2cc4a0"/>
<rect x="261.50" y="41.80" width="1.60" height="14.70" fill="#2cc4a0"/>
<rect x="262.50" y="41.80" width="1.60" height="14.70" fill="#2cc4a0"/>
<rect x="263.50" y="41.80" width="1.60" height="14.70" fill="#70e0f0"/>
<rect x="264.50" y="41.80" width="1.90" height="14.70" fill="#2cc4a0"/>
<rect x="265.80" y="41.80" width="1.60" height="14.70" fill="#e08090"/>
<rect x="266.80" y="41.80" width="1.60" height="14.70" fill="#70e0f0"/>
<rect x="267.80" y="41.80" width="1.40" height="14.70" fill="#2cc4a0"/>
<rect x="268.60" y="41.80" width="1.40" height="14.70" fill="#2cc4a0"/>
<rect x="269.40" y="41.80" width="1.60" height="14.70" fill="#2cc4a0"/>
<rect x="270.40" y="41.80" width="1.90" height="14.70" fill="#2cc4a0"/>
<rect x="271.70" y="41.80" width="1.40" height="14.70" fill="#b0a8b0"/>
<rect x="272.50" y="41.80" width="1.60" height="14.70" fill="#2cc4a0"/>
<rect x="273.50" y="41.80" width="1.90" height="14.70" fill="#2cc4a0"/>
<rect x="274.80" y="41.80" width="1.90" height="14.70" fill="#2cc4a0"/>
<rect x="276.10" y="41.80" width="1.60" height="14.70" fill="#2cc4a0"/>
<rect x="277.10" y="41.80" width="1.40" height="14.70" fill="#e08090"/>
<rect x="277.90" y="41.80" width="1.40" height="14.70" fill="#2cc4a0"/>
<rect x="278.70" y="41.80" width="1.90" height="14.70" fill="#2cc4a0"/>
<rect x="280.00" y="41.80" width="1.60" height="14.70" fill="#2cc4a0"/>
<rect x="281.00" y="41.80" width="1.90" height="14.70" fill="#b0a8b0"/>
<rect x="282.30" y="41.80" width="1.90" height="14.70" fill="#2cc4a0"/>
<rect x="283.60" y="41.80" width="1.40" height="14.70" fill="#e08090"/>
<rect x="284.40" y="41.80" width="1.60" height="14.70" fill="#2cc4a0"/>
<rect x="285.40" y="41.80" width="1.90" height="14.70" fill="#e08090"/>
<rect x="286.70" y="41.80" width="1.90" height="14.70" fill="#2cc4a0"/>
<rect x="288.00" y="41.80" width="1.60" height="14.70" fill="#70e0f0"/>
<rect x="289.00" y="41.80" width="1.60" height="14.70" fill="#b0a8b0"/>
<rect x="290.00" y="41.80" width="1.00" height="14.70" fill="#2cc4a0"/>
<rect x="41.00" y="56.00" width="3.10" height="14.00" fill="#e07884"/>
<rect x="43.50" y="56.00" width="34.10" height="14.00" fill="#d8c6ca"/>
<rect x="77.00" y="56.00" width="23.60" height="14.00" fill="#4262ee"/>
<rect x="100.00" y="56.00" width="4.60" height="14.00" fill="#5a74e6"/>
<rect x="104.00" y="56.00" width="3.60" height="14.00" fill="#4a68ea"/>
<rect x="107.00" y="56.00" width="4.10" height="14.00" fill="#6a80e2"/>
<rect x="110.50" y="56.00" width="7.10" height="14.00" fill="#4a68e8"/>
<rect x="117.00" y="56.00" width="9.60" height="14.00" fill="#6a80e0"/>
<rect x="126.00" y="56.00" width="6.60" height="14.00" fill="#6078e4"/>
<rect x="132.00" y="56.00" width="14.60" height="14.00" fill="#4866ea"/>
<rect x="146.00" y="56.00" width="4.60" height="14.00" fill="#5670e8"/>
<rect x="150.00" y="56.00" width="2.60" height="14.00" fill="#4a66ea"/>
<rect x="152.00" y="56.00" width="10.60" height="14.00" fill="#8090e0"/>
<rect x="162.00" y="56.00" width="12.80" height="14.00" fill="#5070e8"/>
<rect x="174.20" y="56.00" width="24.40" height="14.00" fill="#d0c8cc"/>
<rect x="198.00" y="56.00" width="3.00" height="14.00" fill="#8090e0"/>
<rect x="200.40" y="56.00" width="5.20" height="14.00" fill="#c8c8d8"/>
<rect x="205.00" y="56.00" width="2.60" height="14.00" fill="#b8bce0"/>
<rect x="207.00" y="56.00" width="3.20" height="14.00" fill="#c8c8d8"/>
<rect x="209.60" y="56.00" width="3.00" height="14.00" fill="#a8b0e0"/>
<rect x="212.00" y="56.00" width="3.60" height="14.00" fill="#b8bce0"/>
<rect x="215.00" y="56.00" width="4.10" height="14.00" fill="#6078e8"/>
<rect x="218.50" y="56.00" width="3.60" height="14.00" fill="#a8b0e0"/>
<rect x="221.50" y="56.00" width="3.10" height="14.00" fill="#7a8ce4"/>
<rect x="224.00" y="56.00" width="3.60" height="14.00" fill="#c8c8d4"/>
<rect x="227.00" y="56.00" width="8.10" height="14.00" fill="#a8b0e0"/>
<rect x="234.50" y="56.00" width="19.80" height="14.00" fill="#c4c6dc"/>
<rect x="253.70" y="56.00" width="8.90" height="14.00" fill="#5a78ea"/>
<rect x="262.00" y="56.00" width="3.60" height="14.00" fill="#7a90e4"/>
<rect x="265.00" y="56.00" width="7.90" height="14.00" fill="#6480e8"/>
<rect x="272.30" y="56.00" width="6.30" height="14.00" fill="#b0b8e0"/>
<rect x="278.00" y="56.00" width="13.00" height="14.00" fill="#98a4e0"/>
<rect x="41.00" y="69.50" width="3.10" height="13.30" fill="#e07884"/>
<rect x="43.50" y="69.50" width="34.10" height="13.30" fill="#d8c6ca"/>
<rect x="77.00" y="69.50" width="34.10" height="13.30" fill="#4464ea"/>
<rect x="110.50" y="69.50" width="12.10" height="13.30" fill="#8a98dc"/>
<rect x="122.00" y="69.50" width="10.60" height="13.30" fill="#8898e0"/>
<rect x="132.00" y="69.50" width="12.60" height="13.30" fill="#7e8ee0"/>
<rect x="144.00" y="69.50" width="8.60" height="13.30" fill="#7088e0"/>
<rect x="152.00" y="69.50" width="10.60" height="13.30" fill="#5a72e6"/>
<rect x="162.00" y="69.50" width="12.80" height="13.30" fill="#6a80e4"/>
<rect x="174.20" y="69.50" width="16.00" height="13.30" fill="#d0c8cc"/>
<rect x="189.60" y="69.50" width="2.60" height="13.30" fill="#7080e0"/>
<rect x="191.60" y="69.50" width="4.60" height="13.30" fill="#ccc8d0"/>
<rect x="195.60" y="69.50" width="3.20" height="13.30" fill="#6a7ce2"/>
<rect x="198.20" y="69.50" width="26.40" height="13.30" fill="#d0c8cc"/>
<rect x="224.00" y="69.50" width="4.60" height="13.30" fill="#a8b4e0"/>
<rect x="228.00" y="69.50" width="4.60" height="13.30" fill="#c8c8d8"/>
<rect x="232.00" y="69.50" width="4.60" height="13.30" fill="#a0ace0"/>
<rect x="236.00" y="69.50" width="3.60" height="13.30" fill="#c8c8d8"/>
<rect x="239.00" y="69.50" width="3.60" height="13.30" fill="#b0b8e0"/>
<rect x="242.00" y="69.50" width="8.60" height="13.30" fill="#7a8ce6"/>
<rect x="250.00" y="69.50" width="4.60" height="13.30" fill="#7088e4"/>
<rect x="254.00" y="69.50" width="8.60" height="13.30" fill="#c0c4dc"/>
<rect x="262.00" y="69.50" width="12.60" height="13.30" fill="#a8b0e0"/>
<rect x="274.00" y="69.50" width="6.60" height="13.30" fill="#9aa8e0"/>
<rect x="280.00" y="69.50" width="11.00" height="13.30" fill="#6078e8"/>
<rect x="77.00" y="56.00" width="0.80" height="26.80" fill="#202060" fill-opacity="0.00"/>
<rect x="77.80" y="56.00" width="0.80" height="26.80" fill="#ffffff" fill-opacity="0.03"/>
<rect x="78.60" y="56.00" width="1.20" height="26.80" fill="#ffffff" fill-opacity="0.08"/>
<rect x="79.80" y="56.00" width="1.00" height="26.80" fill="#202060" fill-opacity="0.03"/>
<rect x="80.80" y="56.00" width="1.00" height="26.80" fill="#202060" fill-opacity="0.01"/>
<rect x="81.80" y="56.00" width="0.80" height="26.80" fill="#202060" fill-opacity="0.03"/>
<rect x="82.60" y="56.00" width="0.80" height="26.80" fill="#202060" fill-opacity="0.03"/>
<rect x="83.40" y="56.00" width="0.80" height="26.80" fill="#ffffff" fill-opacity="0.05"/>
<rect x="84.20" y="56.00" width="1.20" height="26.80" fill="#ffffff" fill-opacity="0.06"/>
<rect x="85.40" y="56.00" width="1.00" height="26.80" fill="#ffffff" fill-opacity="0.00"/>
<rect x="86.40" y="56.00" width="0.80" height="26.80" fill="#ffffff" fill-opacity="0.02"/>
<rect x="87.20" y="56.00" width="1.20" height="26.80" fill="#202060" fill-opacity="0.03"/>
<rect x="88.40" y="56.00" width="1.00" height="26.80" fill="#ffffff" fill-opacity="0.08"/>
<rect x="89.40" y="56.00" width="1.00" height="26.80" fill="#202060" fill-opacity="0.06"/>
<rect x="90.40" y="56.00" width="1.00" height="26.80" fill="#ffffff" fill-opacity="0.02"/>
<rect x="91.40" y="56.00" width="0.80" height="26.80" fill="#ffffff" fill-opacity="0.07"/>
<rect x="92.20" y="56.00" width="1.00" height="26.80" fill="#202060" fill-opacity="0.06"/>
<rect x="93.20" y="56.00" width="1.00" height="26.80" fill="#202060" fill-opacity="0.06"/>
<rect x="94.20" y="56.00" width="1.00" height="26.80" fill="#202060" fill-opacity="0.01"/>
<rect x="95.20" y="56.00" width="0.80" height="26.80" fill="#202060" fill-opacity="0.00"/>
<rect x="96.00" y="56.00" width="1.20" height="26.80" fill="#ffffff" fill-opacity="0.06"/>
<rect x="97.20" y="56.00" width="1.00" height="26.80" fill="#202060" fill-opacity="0.07"/>
<rect x="98.20" y="56.00" width="1.00" height="26.80" fill="#ffffff" fill-opacity="0.06"/>
<rect x="99.20" y="56.00" width="1.20" height="26.80" fill="#ffffff" fill-opacity="0.02"/>
<rect x="100.40" y="56.00" width="0.80" height="26.80" fill="#ffffff" fill-opacity="0.03"/>
<rect x="101.20" y="56.00" width="1.00" height="26.80" fill="#202060" fill-opacity="0.04"/>
<rect x="102.20" y="56.00" width="0.80" height="26.80" fill="#ffffff" fill-opacity="0.08"/>
<rect x="103.00" y="56.00" width="0.80" height="26.80" fill="#ffffff" fill-opacity="0.02"/>
<rect x="103.80" y="56.00" width="0.80" height="26.80" fill="#202060" fill-opacity="0.01"/>
<rect x="104.60" y="56.00" width="1.20" height="26.80" fill="#ffffff" fill-opacity="0.08"/>
<rect x="105.80" y="56.00" width="0.80" height="26.80" fill="#202060" fill-opacity="0.01"/>
<rect x="106.60" y="56.00" width="1.20" height="26.80" fill="#ffffff" fill-opacity="0.07"/>
<rect x="107.80" y="56.00" width="1.20" height="26.80" fill="#ffffff" fill-opacity="0.04"/>
<rect x="109.00" y="56.00" width="1.00" height="26.80" fill="#202060" fill-opacity="0.02"/>
<rect x="110.00" y="56.00" width="1.00" height="26.80" fill="#202060" fill-opacity="0.02"/>
<rect x="111.00" y="56.00" width="0.80" height="26.80" fill="#ffffff" fill-opacity="0.04"/>
<rect x="111.80" y="56.00" width="0.80" height="26.80" fill="#202060" fill-opacity="0.02"/>
<rect x="112.60" y="56.00" width="1.20" height="26.80" fill="#ffffff" fill-opacity="0.02"/>
<rect x="113.80" y="56.00" width="1.00" height="26.80" fill="#ffffff" fill-opacity="0.02"/>
<rect x="114.80" y="56.00" width="1.20" height="26.80" fill="#ffffff" fill-opacity="0.04"/>
<rect x="116.00" y="56.00" width="1.20" height="26.80" fill="#ffffff" fill-opacity="0.04"/>
<rect x="117.20" y="56.00" width="0.80" height="26.80" fill="#ffffff" fill-opacity="0.00"/>
<rect x="118.00" y="56.00" width="1.00" height="26.80" fill="#ffffff" fill-opacity="0.07"/>
<rect x="119.00" y="56.00" width="1.00" height="26.80" fill="#ffffff" fill-opacity="0.02"/>
<rect x="120.00" y="56.00" width="0.80" height="26.80" fill="#ffffff" fill-opacity="0.05"/>
<rect x="120.80" y="56.00" width="0.80" height="26.80" fill="#ffffff" fill-opacity="0.03"/>
<rect x="121.60" y="56.00" width="1.00" height="26.80" fill="#ffffff" fill-opacity="0.05"/>
<rect x="122.60" y="56.00" width="0.80" height="26.80" fill="#202060" fill-opacity="0.05"/>
<rect x="123.40" y="56.00" width="0.80" height="26.80" fill="#202060" fill-opacity="0.00"/>
<rect x="124.20" y="56.00" width="0.80" height="26.80" fill="#202060" fill-opacity="0.00"/>
<rect x="125.00" y="56.00" width="0.80" height="26.80" fill="#ffffff" fill-opacity="0.05"/>
<rect x="125.80" y="56.00" width="0.80" height="26.80" fill="#202060" fill-opacity="0.07"/>
<rect x="126.60" y="56.00" width="1.20" height="26.80" fill="#202060" fill-opacity="0.03"/>
<rect x="127.80" y="56.00" width="0.80" height="26.80" fill="#202060" fill-opacity="0.02"/>
<rect x="128.60" y="56.00" width="1.20" height="26.80" fill="#202060" fill-opacity="0.04"/>
<rect x="129.80" y="56.00" width="0.80" height="26.80" fill="#ffffff" fill-opacity="0.06"/>
<rect x="130.60" y="56.00" width="1.20" height="26.80" fill="#ffffff" fill-opacity="0.04"/>
<rect x="131.80" y="56.00" width="1.00" height="26.80" fill="#202060" fill-opacity="0.06"/>
<rect x="132.80" y="56.00" width="1.00" height="26.80" fill="#202060" fill-opacity="0.05"/>
<rect x="133.80" y="56.00" width="0.80" height="26.80" fill="#202060" fill-opacity="0.02"/>
<rect x="134.60" y="56.00" width="1.00" height="26.80" fill="#202060" fill-opacity="0.03"/>
<rect x="135.60" y="56.00" width="1.20" height="26.80" fill="#202060" fill-opacity="0.02"/>
<rect x="136.80" y="56.00" width="0.80" height="26.80" fill="#202060" fill-opacity="0.08"/>
<rect x="137.60" y="56.00" width="0.80" height="26.80" fill="#ffffff" fill-opacity="0.03"/>
<rect x="138.40" y="56.00" width="1.00" height="26.80" fill="#202060" fill-opacity="0.05"/>
<rect x="139.40" y="56.00" width="1.00" height="26.80" fill="#ffffff" fill-opacity="0.06"/>
<rect x="140.40" y="56.00" width="0.80" height="26.80" fill="#ffffff" fill-opacity="0.00"/>
<rect x="141.20" y="56.00" width="1.20" height="26.80" fill="#202060" fill-opacity="0.06"/>
<rect x="142.40" y="56.00" width="0.80" height="26.80" fill="#202060" fill-opacity="0.05"/>
<rect x="143.20" y="56.00" width="1.20" height="26.80" fill="#ffffff" fill-opacity="0.04"/>
<rect x="144.40" y="56.00" width="1.00" height="26.80" fill="#ffffff" fill-opacity="0.02"/>
<rect x="145.40" y="56.00" width="0.80" height="26.80" fill="#202060" fill-opacity="0.01"/>
<rect x="146.20" y="56.00" width="0.80" height="26.80" fill="#ffffff" fill-opacity="0.02"/>
<rect x="147.00" y="56.00" width="1.00" height="26.80" fill="#202060" fill-opacity="0.03"/>
<rect x="148.00" y="56.00" width="0.80" height="26.80" fill="#ffffff" fill-opacity="0.07"/>
<rect x="148.80" y="56.00" width="1.20" height="26.80" fill="#ffffff" fill-opacity="0.06"/>
<rect x="150.00" y="56.00" width="1.20" height="26.80" fill="#ffffff" fill-opacity="0.03"/>
<rect x="151.20" y="56.00" width="1.00" height="26.80" fill="#ffffff" fill-opacity="0.01"/>
<rect x="152.20" y="56.00" width="0.80" height="26.80" fill="#ffffff" fill-opacity="0.03"/>
<rect x="153.00" y="56.00" width="1.00" height="26.80" fill="#ffffff" fill-opacity="0.03"/>
<rect x="154.00" y="56.00" width="0.80" height="26.80" fill="#ffffff" fill-opacity="0.08"/>
<rect x="154.80" y="56.00" width="0.80" height="26.80" fill="#ffffff" fill-opacity="0.07"/>
<rect x="155.60" y="56.00" width="1.20" height="26.80" fill="#ffffff" fill-opacity="0.07"/>
<rect x="156.80" y="56.00" width="1.00" height="26.80" fill="#202060" fill-opacity="0.05"/>
<rect x="157.80" y="56.00" width="1.20" height="26.80" fill="#ffffff" fill-opacity="0.03"/>
<rect x="159.00" y="56.00" width="1.00" height="26.80" fill="#202060" fill-opacity="0.03"/>
<rect x="160.00" y="56.00" width="1.00" height="26.80" fill="#ffffff" fill-opacity="0.04"/>
<rect x="161.00" y="56.00" width="0.80" height="26.80" fill="#202060" fill-opacity="0.00"/>
<rect x="161.80" y="56.00" width="1.00" height="26.80" fill="#202060" fill-opacity="0.02"/>
<rect x="162.80" y="56.00" width="0.80" height="26.80" fill="#202060" fill-opacity="0.06"/>
<rect x="163.60" y="56.00" width="0.80" height="26.80" fill="#202060" fill-opacity="0.01"/>
<rect x="164.40" y="56.00" width="1.00" height="26.80" fill="#202060" fill-opacity="0.03"/>
<rect x="165.40" y="56.00" width="1.20" height="26.80" fill="#ffffff" fill-opacity="0.04"/>
<rect x="166.60" y="56.00" width="0.80" height="26.80" fill="#ffffff" fill-opacity="0.05"/>
<rect x="167.40" y="56.00" width="1.20" height="26.80" fill="#ffffff" fill-opacity="0.03"/>
<rect x="168.60" y="56.00" width="0.80" height="26.80" fill="#202060" fill-opacity="0.06"/>
<rect x="169.40" y="56.00" width="1.20" height="26.80" fill="#ffffff" fill-opacity="0.08"/>
<rect x="170.60" y="56.00" width="0.80" height="26.80" fill="#ffffff" fill-opacity="0.07"/>
<rect x="171.40" y="56.00" width="0.80" height="26.80" fill="#202060" fill-opacity="0.01"/>
<rect x="172.20" y="56.00" width="1.00" height="26.80" fill="#ffffff" fill-opacity="0.08"/>
<rect x="173.20" y="56.00" width="1.20" height="26.80" fill="#ffffff" fill-opacity="0.06"/>
<rect x="174.40" y="56.00" width="0.80" height="26.80" fill="#202060" fill-opacity="0.07"/>
<rect x="175.20" y="56.00" width="0.80" height="26.80" fill="#202060" fill-opacity="0.03"/>
<rect x="176.00" y="56.00" width="1.00" height="26.80" fill="#202060" fill-opacity="0.01"/>
<rect x="177.00" y="56.00" width="0.80" height="26.80" fill="#ffffff" fill-opacity="0.05"/>
<rect x="177.80" y="56.00" width="1.00" height="26.80" fill="#ffffff" fill-opacity="0.03"/>
<rect x="178.80" y="56.00" width="0.80" height="26.80" fill="#202060" fill-opacity="0.03"/>
<rect x="179.60" y="56.00" width="1.20" height="26.80" fill="#202060" fill-opacity="0.03"/>
<rect x="180.80" y="56.00" width="0.80" height="26.80" fill="#202060" fill-opacity="0.06"/>
<rect x="181.60" y="56.00" width="0.80" height="26.80" fill="#ffffff" fill-opacity="0.06"/>
<rect x="182.40" y="56.00" width="1.20" height="26.80" fill="#202060" fill-opacity="0.07"/>
<rect x="183.60" y="56.00" width="1.20" height="26.80" fill="#ffffff" fill-opacity="0.04"/>
<rect x="184.80" y="56.00" width="1.00" height="26.80" fill="#202060" fill-opacity="0.08"/>
<rect x="185.80" y="56.00" width="1.20" height="26.80" fill="#202060" fill-opacity="0.06"/>
<rect x="187.00" y="56.00" width="1.00" height="26.80" fill="#ffffff" fill-opacity="0.08"/>
<rect x="188.00" y="56.00" width="1.00" height="26.80" fill="#ffffff" fill-opacity="0.03"/>
<rect x="189.00" y="56.00" width="1.00" height="26.80" fill="#ffffff" fill-opacity="0.02"/>
<rect x="190.00" y="56.00" width="1.00" height="26.80" fill="#202060" fill-opacity="0.07"/>
<rect x="191.00" y="56.00" width="1.00" height="26.80" fill="#202060" fill-opacity="0.05"/>
<rect x="192.00" y="56.00" width="1.20" height="26.80" fill="#ffffff" fill-opacity="0.00"/>
<rect x="193.20" y="56.00" width="0.80" height="26.80" fill="#202060" fill-opacity="0.01"/>
<rect x="194.00" y="56.00" width="1.00" height="26.80" fill="#ffffff" fill-opacity="0.04"/>
<rect x="195.00" y="56.00" width="0.80" height="26.80" fill="#ffffff" fill-opacity="0.04"/>
<rect x="195.80" y="56.00" width="0.80" height="26.80" fill="#202060" fill-opacity="0.00"/>
<rect x="196.60" y="56.00" width="1.00" height="26.80" fill="#202060" fill-opacity="0.01"/>
<rect x="197.60" y="56.00" width="1.20" height="26.80" fill="#202060" fill-opacity="0.02"/>
<rect x="198.80" y="56.00" width="1.20" height="26.80" fill="#202060" fill-opacity="0.01"/>
<rect x="200.00" y="56.00" width="1.20" height="26.80" fill="#ffffff" fill-opacity="0.07"/>
<rect x="201.20" y="56.00" width="0.80" height="26.80" fill="#ffffff" fill-opacity="0.00"/>
<rect x="202.00" y="56.00" width="1.20" height="26.80" fill="#ffffff" fill-opacity="0.01"/>
<rect x="203.20" y="56.00" width="0.80" height="26.80" fill="#202060" fill-opacity="0.05"/>
<rect x="204.00" y="56.00" width="1.00" height="26.80" fill="#ffffff" fill-opacity="0.06"/>
<rect x="205.00" y="56.00" width="0.80" height="26.80" fill="#202060" fill-opacity="0.05"/>
<rect x="205.80" y="56.00" width="1.20" height="26.80" fill="#202060" fill-opacity="0.05"/>
<rect x="207.00" y="56.00" width="1.20" height="26.80" fill="#202060" fill-opacity="0.07"/>
<rect x="208.20" y="56.00" width="0.80" height="26.80" fill="#ffffff" fill-opacity="0.01"/>
<rect x="209.00" y="56.00" width="0.80" height="26.80" fill="#ffffff" fill-opacity="0.00"/>
<rect x="209.80" y="56.00" width="1.00" height="26.80" fill="#ffffff" fill-opacity="0.01"/>
<rect x="210.80" y="56.00" width="0.80" height="26.80" fill="#ffffff" fill-opacity="0.07"/>
<rect x="211.60" y="56.00" width="0.80" height="26.80" fill="#ffffff" fill-opacity="0.05"/>
<rect x="212.40" y="56.00" width="0.80" height="26.80" fill="#202060" fill-opacity="0.03"/>
<rect x="213.20" y="56.00" width="1.20" height="26.80" fill="#202060" fill-opacity="0.01"/>
<rect x="214.40" y="56.00" width="0.80" height="26.80" fill="#ffffff" fill-opacity="0.02"/>
<rect x="215.20" y="56.00" width="1.20" height="26.80" fill="#ffffff" fill-opacity="0.06"/>
<rect x="216.40" y="56.00" width="1.00" height="26.80" fill="#202060" fill-opacity="0.07"/>
<rect x="217.40" y="56.00" width="0.80" height="26.80" fill="#202060" fill-opacity="0.06"/>
<rect x="218.20" y="56.00" width="0.80" height="26.80" fill="#ffffff" fill-opacity="0.02"/>
<rect x="219.00" y="56.00" width="1.00" height="26.80" fill="#ffffff" fill-opacity="0.02"/>
<rect x="220.00" y="56.00" width="0.80" height="26.80" fill="#202060" fill-opacity="0.03"/>
<rect x="220.80" y="56.00" width="1.20" height="26.80" fill="#202060" fill-opacity="0.00"/>
<rect x="222.00" y="56.00" width="1.20" height="26.80" fill="#202060" fill-opacity="0.06"/>
<rect x="223.20" y="56.00" width="1.00" height="26.80" fill="#ffffff" fill-opacity="0.05"/>
<rect x="224.20" y="56.00" width="0.80" height="26.80" fill="#ffffff" fill-opacity="0.07"/>
<rect x="225.00" y="56.00" width="0.80" height="26.80" fill="#ffffff" fill-opacity="0.02"/>
<rect x="225.80" y="56.00" width="1.20" height="26.80" fill="#ffffff" fill-opacity="0.02"/>
<rect x="227.00" y="56.00" width="1.20" height="26.80" fill="#ffffff" fill-opacity="0.07"/>
<rect x="228.20" y="56.00" width="1.00" height="26.80" fill="#ffffff" fill-opacity="0.03"/>
<rect x="229.20" y="56.00" width="1.00" height="26.80" fill="#202060" fill-opacity="0.07"/>
<rect x="230.20" y="56.00" width="1.00" height="26.80" fill="#ffffff" fill-opacity="0.07"/>
<rect x="231.20" y="56.00" width="0.80" height="26.80" fill="#ffffff" fill-opacity="0.03"/>
<rect x="232.00" y="56.00" width="1.20" height="26.80" fill="#ffffff" fill-opacity="0.07"/>
<rect x="233.20" y="56.00" width="1.00" height="26.80" fill="#ffffff" fill-opacity="0.05"/>
<rect x="234.20" y="56.00" width="1.20" height="26.80" fill="#ffffff" fill-opacity="0.07"/>
<rect x="235.40" y="56.00" width="0.80" height="26.80" fill="#ffffff" fill-opacity="0.00"/>
<rect x="236.20" y="56.00" width="1.20" height="26.80" fill="#202060" fill-opacity="0.07"/>
<rect x="237.40" y="56.00" width="0.80" height="26.80" fill="#ffffff" fill-opacity="0.06"/>
<rect x="238.20" y="56.00" width="0.80" height="26.80" fill="#ffffff" fill-opacity="0.01"/>
<rect x="239.00" y="56.00" width="1.20" height="26.80" fill="#ffffff" fill-opacity="0.01"/>
<rect x="240.20" y="56.00" width="0.80" height="26.80" fill="#202060" fill-opacity="0.07"/>
<rect x="241.00" y="56.00" width="0.80" height="26.80" fill="#ffffff" fill-opacity="0.07"/>
<rect x="241.80" y="56.00" width="1.20" height="26.80" fill="#ffffff" fill-opacity="0.08"/>
<rect x="243.00" y="56.00" width="0.80" height="26.80" fill="#ffffff" fill-opacity="0.02"/>
<rect x="243.80" y="56.00" width="0.80" height="26.80" fill="#ffffff" fill-opacity="0.00"/>
<rect x="244.60" y="56.00" width="1.20" height="26.80" fill="#202060" fill-opacity="0.05"/>
<rect x="245.80" y="56.00" width="0.80" height="26.80" fill="#ffffff" fill-opacity="0.01"/>
<rect x="246.60" y="56.00" width="1.00" height="26.80" fill="#202060" fill-opacity="0.03"/>
<rect x="247.60" y="56.00" width="1.00" height="26.80" fill="#202060" fill-opacity="0.00"/>
<rect x="248.60" y="56.00" width="1.00" height="26.80" fill="#202060" fill-opacity="0.00"/>
<rect x="249.60" y="56.00" width="1.00" height="26.80" fill="#202060" fill-opacity="0.06"/>
<rect x="250.60" y="56.00" width="1.00" height="26.80" fill="#ffffff" fill-opacity="0.05"/>
<rect x="251.60" y="56.00" width="1.00" height="26.80" fill="#ffffff" fill-opacity="0.00"/>
<rect x="252.60" y="56.00" width="1.00" height="26.80" fill="#ffffff" fill-opacity="0.04"/>
<rect x="253.60" y="56.00" width="1.20" height="26.80" fill="#ffffff" fill-opacity="0.05"/>
<rect x="254.80" y="56.00" width="1.20" height="26.80" fill="#ffffff" fill-opacity="0.07"/>
<rect x="256.00" y="56.00" width="1.00" height="26.80" fill="#ffffff" fill-opacity="0.00"/>
<rect x="257.00" y="56.00" width="1.00" height="26.80" fill="#ffffff" fill-opacity="0.06"/>
<rect x="258.00" y="56.00" width="0.80" height="26.80" fill="#ffffff" fill-opacity="0.03"/>
<rect x="258.80" y="56.00" width="1.00" height="26.80" fill="#ffffff" fill-opacity="0.06"/>
<rect x="259.80" y="56.00" width="1.00" height="26.80" fill="#202060" fill-opacity="0.05"/>
<rect x="260.80" y="56.00" width="1.20" height="26.80" fill="#202060" fill-opacity="0.08"/>
<rect x="262.00" y="56.00" width="0.80" height="26.80" fill="#ffffff" fill-opacity="0.08"/>
<rect x="262.80" y="56.00" width="1.00" height="26.80" fill="#ffffff" fill-opacity="0.01"/>
<rect x="263.80" y="56.00" width="1.00" height="26.80" fill="#ffffff" fill-opacity="0.06"/>
<rect x="264.80" y="56.00" width="1.20" height="26.80" fill="#ffffff" fill-opacity="0.03"/>
<rect x="266.00" y="56.00" width="1.00" height="26.80" fill="#ffffff" fill-opacity="0.07"/>
<rect x="267.00" y="56.00" width="1.00" height="26.80" fill="#ffffff" fill-opacity="0.07"/>
<rect x="268.00" y="56.00" width="1.00" height="26.80" fill="#202060" fill-opacity="0.02"/>
<rect x="269.00" y="56.00" width="1.00" height="26.80" fill="#ffffff" fill-opacity="0.07"/>
<rect x="270.00" y="56.00" width="1.00" height="26.80" fill="#ffffff" fill-opacity="0.08"/>
<rect x="271.00" y="56.00" width="1.00" height="26.80" fill="#ffffff" fill-opacity="0.01"/>
<rect x="272.00" y="56.00" width="1.00" height="26.80" fill="#ffffff" fill-opacity="0.05"/>
<rect x="273.00" y="56.00" width="1.00" height="26.80" fill="#202060" fill-opacity="0.05"/>
<rect x="274.00" y="56.00" width="0.80" height="26.80" fill="#202060" fill-opacity="0.04"/>
<rect x="274.80" y="56.00" width="1.20" height="26.80" fill="#202060" fill-opacity="0.02"/>
<rect x="276.00" y="56.00" width="1.00" height="26.80" fill="#ffffff" fill-opacity="0.05"/>
<rect x="277.00" y="56.00" width="1.20" height="26.80" fill="#202060" fill-opacity="0.02"/>
<rect x="278.20" y="56.00" width="1.20" height="26.80" fill="#ffffff" fill-opacity="0.07"/>
<rect x="279.40" y="56.00" width="1.20" height="26.80" fill="#ffffff" fill-opacity="0.01"/>
<rect x="280.60" y="56.00" width="1.20" height="26.80" fill="#202060" fill-opacity="0.03"/>
<rect x="281.80" y="56.00" width="0.80" height="26.80" fill="#ffffff" fill-opacity="0.02"/>
<rect x="282.60" y="56.00" width="1.00" height="26.80" fill="#ffffff" fill-opacity="0.08"/>
<rect x="283.60" y="56.00" width="0.80" height="26.80" fill="#ffffff" fill-opacity="0.08"/>
<rect x="284.40" y="56.00" width="0.80" height="26.80" fill="#ffffff" fill-opacity="0.03"/>
<rect x="285.20" y="56.00" width="1.00" height="26.80" fill="#202060" fill-opacity="0.06"/>
<rect x="286.20" y="56.00" width="1.00" height="26.80" fill="#ffffff" fill-opacity="0.02"/>
<rect x="287.20" y="56.00" width="1.00" height="26.80" fill="#202060" fill-opacity="0.02"/>
<rect x="288.20" y="56.00" width="1.00" height="26.80" fill="#202060" fill-opacity="0.00"/>
<rect x="289.20" y="56.00" width="1.00" height="26.80" fill="#202060" fill-opacity="0.06"/>
<rect x="290.20" y="56.00" width="0.80" height="26.80" fill="#202060" fill-opacity="0.00"/>
<rect x="43.50" y="56.00" width="1.50" height="26.80" fill="#e890a0" fill-opacity="0.07"/>
<rect x="45.00" y="56.00" width="0.80" height="26.80" fill="#e890a0" fill-opacity="0.07"/>
<rect x="45.80" y="56.00" width="1.00" height="26.80" fill="#e890a0" fill-opacity="0.07"/>
<rect x="46.80" y="56.00" width="1.50" height="26.80" fill="#e890a0" fill-opacity="0.07"/>
<rect x="48.30" y="56.00" width="1.00" height="26.80" fill="#e890a0" fill-opacity="0.08"/>
<rect x="49.30" y="56.00" width="1.50" height="26.80" fill="#e890a0" fill-opacity="0.07"/>
<rect x="50.80" y="56.00" width="1.50" height="26.80" fill="#e890a0" fill-opacity="0.07"/>
<rect x="52.30" y="56.00" width="0.80" height="26.80" fill="#e890a0" fill-opacity="0.07"/>
<rect x="53.10" y="56.00" width="1.50" height="26.80" fill="#e890a0" fill-opacity="0.01"/>
<rect x="54.60" y="56.00" width="1.00" height="26.80" fill="#e890a0" fill-opacity="0.03"/>
<rect x="55.60" y="56.00" width="1.50" height="26.80" fill="#e890a0" fill-opacity="0.07"/>
<rect x="57.10" y="56.00" width="1.00" height="26.80" fill="#e890a0" fill-opacity="0.02"/>
<rect x="58.10" y="56.00" width="1.00" height="26.80" fill="#e890a0" fill-opacity="0.07"/>
<rect x="59.10" y="56.00" width="1.50" height="26.80" fill="#e890a0" fill-opacity="0.02"/>
<rect x="60.60" y="56.00" width="1.00" height="26.80" fill="#e890a0" fill-opacity="0.05"/>
<rect x="61.60" y="56.00" width="0.80" height="26.80" fill="#e890a0" fill-opacity="0.06"/>
<rect x="62.40" y="56.00" width="1.00" height="26.80" fill="#e890a0" fill-opacity="0.05"/>
<rect x="63.40" y="56.00" width="1.50" height="26.80" fill="#e890a0" fill-opacity="0.09"/>
<rect x="64.90" y="56.00" width="0.80" height="26.80" fill="#e890a0" fill-opacity="0.09"/>
<rect x="65.70" y="56.00" width="1.00" height="26.80" fill="#e890a0" fill-opacity="0.08"/>
<rect x="66.70" y="56.00" width="1.00" height="26.80" fill="#e890a0" fill-opacity="0.08"/>
<rect x="67.70" y="56.00" width="0.80" height="26.80" fill="#e890a0" fill-opacity="0.00"/>
<rect x="68.50" y="56.00" width="1.50" height="26.80" fill="#e890a0" fill-opacity="0.02"/>
<rect x="70.00" y="56.00" width="1.50" height="26.80" fill="#e890a0" fill-opacity="0.08"/>
<rect x="71.50" y="56.00" width="0.80" height="26.80" fill="#e890a0" fill-opacity="0.05"/>
<rect x="72.30" y="56.00" width="0.80" height="26.80" fill="#e890a0" fill-opacity="0.08"/>
<rect x="73.10" y="56.00" width="1.00" height="26.80" fill="#e890a0" fill-opacity="0.05"/>
<rect x="74.10" y="56.00" width="1.50" height="26.80" fill="#e890a0" fill-opacity="0.05"/>
<rect x="75.60" y="56.00" width="0.80" height="26.80" fill="#e890a0" fill-opacity="0.06"/>
<rect x="76.40" y="56.00" width="0.60" height="26.80" fill="#e890a0" fill-opacity="0.05"/>
<rect x="49.00" y="56.00" width="0.80" height="13.30" fill="#5a78e0"/>
<path d="M41 62.7 H28.3 V77.4 H41" stroke="#666" stroke-width="0.55" fill="none"/>
<line x1="27.50" y1="70.00" x2="28.30" y2="70.00" stroke="#666" stroke-width="0.55"/>
<rect x="294.20" y="29.50" width="19.90" height="4.30" fill="#e2e2e2"/>
<text x="307.80" y="33.00" font-size="3.7" fill="#000" text-anchor="end" font-weight="bold" stroke="#000" stroke-width="0.1">CCL5</text>
<rect x="294.20" y="33.80" width="19.90" height="50.20" fill="#f6f6f6"/>
<rect x="308.80" y="34.00" width="4.80" height="4.57" fill="#1418ff"/>
<rect x="308.80" y="38.52" width="4.80" height="4.57" fill="#2c3cf4"/>
<rect x="308.80" y="43.04" width="4.80" height="4.57" fill="#4858ec"/>
<rect x="308.80" y="47.56" width="4.80" height="4.57" fill="#6874e4"/>
<rect x="308.80" y="52.08" width="4.80" height="4.57" fill="#8c94dc"/>
<rect x="308.80" y="56.60" width="4.80" height="4.57" fill="#b4b4cc"/>
<rect x="308.80" y="61.12" width="4.80" height="4.57" fill="#d09aa4"/>
<rect x="308.80" y="65.64" width="4.80" height="4.57" fill="#e07078"/>
<rect x="308.80" y="70.16" width="4.80" height="4.57" fill="#ea4c50"/>
<rect x="308.80" y="74.68" width="4.80" height="4.57" fill="#f42a2c"/>
<rect x="308.80" y="79.20" width="4.80" height="4.57" fill="#ff0c0c"/>
<text x="307.40" y="37.40" font-size="3.9" fill="#111" text-anchor="end" stroke="#111" stroke-width="0.12">0.0</text>
<text x="307.40" y="41.92" font-size="3.9" fill="#111" text-anchor="end" stroke="#111" stroke-width="0.12">2.3</text>
<text x="307.40" y="46.44" font-size="3.9" fill="#111" text-anchor="end" stroke="#111" stroke-width="0.12">4.6</text>
<text x="307.40" y="50.96" font-size="3.9" fill="#111" text-anchor="end" stroke="#111" stroke-width="0.12">6.8</text>
<text x="307.40" y="55.48" font-size="3.9" fill="#111" text-anchor="end" stroke="#111" stroke-width="0.12">9.1</text>
<text x="307.40" y="60.00" font-size="3.9" fill="#111" text-anchor="end" stroke="#111" stroke-width="0.12">11.4</text>
<text x="307.40" y="64.52" font-size="3.9" fill="#111" text-anchor="end" stroke="#111" stroke-width="0.12">65.2</text>
<text x="307.40" y="69.04" font-size="3.9" fill="#111" text-anchor="end" stroke="#111" stroke-width="0.12">119.1</text>
<text x="307.40" y="73.56" font-size="3.9" fill="#111" text-anchor="end" stroke="#111" stroke-width="0.12">172.9</text>
<text x="307.40" y="78.08" font-size="3.9" fill="#111" text-anchor="end" stroke="#111" stroke-width="0.12">226.8</text>
<text x="307.40" y="82.60" font-size="3.9" fill="#111" text-anchor="end" stroke="#111" stroke-width="0.12">280.7</text>
<rect x="315.30" y="29.50" width="19.70" height="4.30" fill="#e2e2e2"/>
<text x="328.70" y="33.00" font-size="3.7" fill="#000" text-anchor="end" font-weight="bold" stroke="#000" stroke-width="0.1">CCR5</text>
<rect x="315.30" y="33.80" width="19.70" height="50.20" fill="#f6f6f6"/>
<rect x="329.70" y="34.00" width="4.80" height="4.57" fill="#1418ff"/>
<rect x="329.70" y="38.52" width="4.80" height="4.57" fill="#2c3cf4"/>
<rect x="329.70" y="43.04" width="4.80" height="4.57" fill="#4858ec"/>
<rect x="329.70" y="47.56" width="4.80" height="4.57" fill="#6874e4"/>
<rect x="329.70" y="52.08" width="4.80" height="4.57" fill="#8c94dc"/>
<rect x="329.70" y="56.60" width="4.80" height="4.57" fill="#b4b4cc"/>
<rect x="329.70" y="61.12" width="4.80" height="4.57" fill="#d09aa4"/>
<rect x="329.70" y="65.64" width="4.80" height="4.57" fill="#e07078"/>
<rect x="329.70" y="70.16" width="4.80" height="4.57" fill="#ea4c50"/>
<rect x="329.70" y="74.68" width="4.80" height="4.57" fill="#f42a2c"/>
<rect x="329.70" y="79.20" width="4.80" height="4.57" fill="#ff0c0c"/>
<text x="328.30" y="37.40" font-size="3.9" fill="#111" text-anchor="end" stroke="#111" stroke-width="0.12">0.00</text>
<text x="328.30" y="41.92" font-size="3.9" fill="#111" text-anchor="end" stroke="#111" stroke-width="0.12">0.93</text>
<text x="328.30" y="46.44" font-size="3.9" fill="#111" text-anchor="end" stroke="#111" stroke-width="0.12">1.85</text>
<text x="328.30" y="50.96" font-size="3.9" fill="#111" text-anchor="end" stroke="#111" stroke-width="0.12">2.78</text>
<text x="328.30" y="55.48" font-size="3.9" fill="#111" text-anchor="end" stroke="#111" stroke-width="0.12">3.71</text>
<text x="328.30" y="60.00" font-size="3.9" fill="#111" text-anchor="end" stroke="#111" stroke-width="0.12">4.63</text>
<text x="328.30" y="64.52" font-size="3.9" fill="#111" text-anchor="end" stroke="#111" stroke-width="0.12">22.20</text>
<text x="328.30" y="69.04" font-size="3.9" fill="#111" text-anchor="end" stroke="#111" stroke-width="0.12">39.77</text>
<text x="328.30" y="73.56" font-size="3.9" fill="#111" text-anchor="end" stroke="#111" stroke-width="0.12">57.34</text>
<text x="328.30" y="78.08" font-size="3.9" fill="#111" text-anchor="end" stroke="#111" stroke-width="0.12">74.91</text>
<text x="328.30" y="82.60" font-size="3.9" fill="#111" text-anchor="end" stroke="#111" stroke-width="0.12">92.48</text>
<rect x="41.00" y="83.40" width="36.00" height="1.40" fill="#111"/>
<path d="M45.6 84.5 L46.5 86.5 L47.4 84.5" stroke="#333" stroke-width="0.5" fill="none"/>
<path d="M47.1 84.5 L48.0 86.5 L48.9 84.5" stroke="#333" stroke-width="0.5" fill="none"/>
<path d="M48.3 84.5 L49.2 86.5 L50.1 84.5" stroke="#333" stroke-width="0.5" fill="none"/>
<path d="M50.1 84.5 L51.0 86.5 L51.9 84.5" stroke="#333" stroke-width="0.5" fill="none"/>
<path d="M51.9 84.5 L52.8 86.5 L53.7 84.5" stroke="#333" stroke-width="0.5" fill="none"/>
<path d="M54.6 84.5 L55.5 86.5 L56.4 84.5" stroke="#333" stroke-width="0.5" fill="none"/>
<path d="M56.6 84.5 L57.5 86.5 L58.4 84.5" stroke="#333" stroke-width="0.5" fill="none"/>
<path d="M58.9 84.5 L59.8 86.5 L60.7 84.5" stroke="#333" stroke-width="0.5" fill="none"/>
<path d="M60.6 84.5 L61.5 86.5 L62.4 84.5" stroke="#333" stroke-width="0.5" fill="none"/>
<path d="M62.6 84.5 L63.5 86.5 L64.4 84.5" stroke="#333" stroke-width="0.5" fill="none"/>
<path d="M64.6 84.5 L65.5 86.5 L66.4 84.5" stroke="#333" stroke-width="0.5" fill="none"/>
<path d="M66.6 84.5 L67.5 86.5 L68.4 84.5" stroke="#333" stroke-width="0.5" fill="none"/>
<path d="M68.1 84.5 L69.0 86.5 L69.9 84.5" stroke="#333" stroke-width="0.5" fill="none"/>
<path d="M70.1 84.5 L71.0 86.5 L71.9 84.5" stroke="#333" stroke-width="0.5" fill="none"/>
<path d="M72.1 84.5 L73.0 86.5 L73.9 84.5" stroke="#333" stroke-width="0.5" fill="none"/>
<path d="M74.1 84.5 L75.0 86.5 L75.9 84.5" stroke="#333" stroke-width="0.5" fill="none"/>
<path d="M75.6 84.5 L76.5 86.5 L77.4 84.5" stroke="#333" stroke-width="0.5" fill="none"/>
<rect x="41.00" y="84.00" width="3.30" height="20.90" fill="#141414"/>
<rect x="44.3" y="84.5" width="3.5" height="20.4" fill="url(#dg)"/>
<path d="M45.9 85 V104.9" stroke="#777" stroke-width="0.7" fill="none"/>
<path d="M50.15 86 V95.75 H54.1 V86" stroke="#505050" stroke-width="0.5" fill="none"/>
<path d="M50.2 88.5 L52.1 90.5 L54 88.5" stroke="#505050" stroke-width="0.45" fill="none"/>
<path d="M52.4 95.75 V100.3 H60.6 V91.8" stroke="#505050" stroke-width="0.5" fill="none"/>
<path d="M58.65 86 V91.8 H62.6 V86" stroke="#505050" stroke-width="0.5" fill="none"/>
<path d="M56.4 100.3 V104.9" stroke="#505050" stroke-width="0.5" fill="none"/>
<rect x="65" y="85.5" width="4.8" height="9.5" fill="#c8c8c8"/>
<path d="M66.5 86 V102.3 H69.8 V86" stroke="#666" stroke-width="0.5" fill="none"/>
<path d="M67.9 102.3 V104.5" stroke="#505050" stroke-width="0.5" fill="none"/>
<rect x="71.6" y="85.5" width="4.4" height="9.5" fill="#d4d4d4"/>
<path d="M72.4 86 V96.1 H75.9 V86" stroke="#666" stroke-width="0.5" fill="none"/>
<path d="M74.4 96.1 V104.9" stroke="#505050" stroke-width="0.5" fill="none"/>
<path d="M77.0 83.5 V87.4 H83.0 V83.5" stroke="#555" stroke-width="0.45" fill="none"/>
<path d="M83.0 83.5 V86.0 H89.0 V83.5" stroke="#555" stroke-width="0.45" fill="none"/>
<path d="M89.0 83.5 V86.5 H93.0 V83.5" stroke="#555" stroke-width="0.45" fill="none"/>
<path d="M93.0 83.5 V87.3 H96.0 V83.5" stroke="#555" stroke-width="0.45" fill="none"/>
<path d="M96.0 83.5 V87.1 H101.0 V83.5" stroke="#555" stroke-width="0.45" fill="none"/>
<path d="M101.0 83.5 V86.2 H106.0 V83.5" stroke="#555" stroke-width="0.45" fill="none"/>
<path d="M106.0 83.5 V85.7 H112.0 V83.5" stroke="#555" stroke-width="0.45" fill="none"/>
<path d="M112.0 83.5 V86.5 H115.0 V83.5" stroke="#555" stroke-width="0.45" fill="none"/>
<path d="M115.0 83.5 V87.1 H121.0 V83.5" stroke="#555" stroke-width="0.45" fill="none"/>
<path d="M121.0 83.5 V87.0 H126.0 V83.5" stroke="#555" stroke-width="0.45" fill="none"/>
<path d="M126.0 83.5 V86.1 H129.0 V83.5" stroke="#555" stroke-width="0.45" fill="none"/>
<path d="M129.0 83.5 V87.8 H135.0 V83.5" stroke="#555" stroke-width="0.45" fill="none"/>
<path d="M135.0 83.5 V88.0 H139.0 V83.5" stroke="#555" stroke-width="0.45" fill="none"/>
<path d="M139.0 83.5 V86.7 H145.0 V83.5" stroke="#555" stroke-width="0.45" fill="none"/>
<path d="M145.0 83.5 V85.8 H149.0 V83.5" stroke="#555" stroke-width="0.45" fill="none"/>
<path d="M149.0 83.5 V87.5 H152.0 V83.5" stroke="#555" stroke-width="0.45" fill="none"/>
<path d="M152.0 83.5 V86.7 H156.0 V83.5" stroke="#555" stroke-width="0.45" fill="none"/>
<path d="M156.0 83.5 V87.5 H160.0 V83.5" stroke="#555" stroke-width="0.45" fill="none"/>
<path d="M160.0 83.5 V86.4 H164.0 V83.5" stroke="#555" stroke-width="0.45" fill="none"/>
<path d="M164.0 83.5 V86.7 H170.0 V83.5" stroke="#555" stroke-width="0.45" fill="none"/>
<path d="M170.0 83.5 V87.4 H175.0 V83.5" stroke="#555" stroke-width="0.45" fill="none"/>
<path d="M175.0 83.5 V87.4 H179.0 V83.5" stroke="#555" stroke-width="0.45" fill="none"/>
<path d="M179.0 83.5 V86.4 H185.0 V83.5" stroke="#555" stroke-width="0.45" fill="none"/>
<path d="M185.0 83.5 V86.2 H189.0 V83.5" stroke="#555" stroke-width="0.45" fill="none"/>
<path d="M189.0 83.5 V87.2 H195.0 V83.5" stroke="#555" stroke-width="0.45" fill="none"/>
<path d="M195.0 83.5 V87.2 H201.0 V83.5" stroke="#555" stroke-width="0.45" fill="none"/>
<path d="M201.0 83.5 V85.5 H207.0 V83.5" stroke="#555" stroke-width="0.45" fill="none"/>
<path d="M207.0 83.5 V86.4 H212.0 V83.5" stroke="#555" stroke-width="0.45" fill="none"/>
<path d="M212.0 83.5 V86.3 H217.0 V83.5" stroke="#555" stroke-width="0.45" fill="none"/>
<path d="M217.0 83.5 V86.6 H223.0 V83.5" stroke="#555" stroke-width="0.45" fill="none"/>
<path d="M223.0 83.5 V87.1 H226.0 V83.5" stroke="#555" stroke-width="0.45" fill="none"/>
<path d="M226.0 83.5 V85.9 H231.0 V83.5" stroke="#555" stroke-width="0.45" fill="none"/>
<path d="M231.0 83.5 V87.6 H236.0 V83.5" stroke="#555" stroke-width="0.45" fill="none"/>
<path d="M236.0 83.5 V85.7 H239.0 V83.5" stroke="#555" stroke-width="0.45" fill="none"/>
<path d="M239.0 83.5 V87.5 H244.0 V83.5" stroke="#555" stroke-width="0.45" fill="none"/>
<path d="M244.0 83.5 V86.8 H248.0 V83.5" stroke="#555" stroke-width="0.45" fill="none"/>
<path d="M248.0 83.5 V87.1 H253.0 V83.5" stroke="#555" stroke-width="0.45" fill="none"/>
<path d="M253.0 83.5 V87.1 H256.0 V83.5" stroke="#555" stroke-width="0.45" fill="none"/>
<path d="M256.0 83.5 V87.9 H260.0 V83.5" stroke="#555" stroke-width="0.45" fill="none"/>
<path d="M260.0 83.5 V86.1 H265.0 V83.5" stroke="#555" stroke-width="0.45" fill="none"/>
<path d="M265.0 83.5 V86.9 H268.0 V83.5" stroke="#555" stroke-width="0.45" fill="none"/>
<path d="M268.0 83.5 V86.0 H272.0 V83.5" stroke="#555" stroke-width="0.45" fill="none"/>
<path d="M272.0 83.5 V86.4 H278.0 V83.5" stroke="#555" stroke-width="0.45" fill="none"/>
<path d="M278.0 83.5 V86.0 H282.0 V83.5" stroke="#555" stroke-width="0.45" fill="none"/>
<path d="M282.0 83.5 V87.5 H288.0 V83.5" stroke="#555" stroke-width="0.45" fill="none"/>
<path d="M288.0 83.5 V87.0 H291.0 V83.5" stroke="#555" stroke-width="0.45" fill="none"/>
<line x1="77.00" y1="83.30" x2="291.00" y2="83.30" stroke="#444" stroke-width="0.5"/>
<path d="M77.5 83.4 L78.6 86.4 L79.7 83.4" stroke="#3a3a3a" stroke-width="0.45" fill="none"/>
<path d="M79.7 83.4 L81.4 85.7 L83.1 83.4" stroke="#3a3a3a" stroke-width="0.45" fill="none"/>
<path d="M83.1 83.4 L84.5 86.2 L85.9 83.4" stroke="#3a3a3a" stroke-width="0.45" fill="none"/>
<path d="M85.9 83.4 L87.9 86.4 L89.9 83.4" stroke="#3a3a3a" stroke-width="0.45" fill="none"/>
<path d="M89.9 83.4 L91.0 86.2 L92.1 83.4" stroke="#3a3a3a" stroke-width="0.45" fill="none"/>
<path d="M92.1 83.4 L93.8 86.0 L95.5 83.4" stroke="#3a3a3a" stroke-width="0.45" fill="none"/>
<path d="M95.5 83.4 L96.9 86.1 L98.3 83.4" stroke="#3a3a3a" stroke-width="0.45" fill="none"/>
<path d="M98.3 83.4 L99.4 86.1 L100.5 83.4" stroke="#3a3a3a" stroke-width="0.45" fill="none"/>
<path d="M100.5 83.4 L101.9 86.5 L103.3 83.4" stroke="#3a3a3a" stroke-width="0.45" fill="none"/>
<path d="M103.3 83.4 L104.7 86.1 L106.1 83.4" stroke="#3a3a3a" stroke-width="0.45" fill="none"/>
<path d="M106.1 83.4 L107.2 85.6 L108.3 83.4" stroke="#3a3a3a" stroke-width="0.45" fill="none"/>
<path d="M108.3 83.4 L110.0 86.1 L111.7 83.4" stroke="#3a3a3a" stroke-width="0.45" fill="none"/>
<path d="M111.7 83.4 L113.7 86.4 L115.7 83.4" stroke="#3a3a3a" stroke-width="0.45" fill="none"/>
<path d="M115.7 83.4 L117.7 86.0 L119.7 83.4" stroke="#3a3a3a" stroke-width="0.45" fill="none"/>
<path d="M119.7 83.4 L121.7 86.9 L123.7 83.4" stroke="#3a3a3a" stroke-width="0.45" fill="none"/>
<path d="M123.7 83.4 L124.8 85.7 L125.9 83.4" stroke="#3a3a3a" stroke-width="0.45" fill="none"/>
<path d="M125.9 83.4 L127.6 86.4 L129.3 83.4" stroke="#3a3a3a" stroke-width="0.45" fill="none"/>
<path d="M129.3 83.4 L130.4 85.4 L131.5 83.4" stroke="#3a3a3a" stroke-width="0.45" fill="none"/>
<path d="M131.5 83.4 L132.6 86.4 L133.7 83.4" stroke="#3a3a3a" stroke-width="0.45" fill="none"/>
<path d="M133.7 83.4 L135.4 86.6 L137.1 83.4" stroke="#3a3a3a" stroke-width="0.45" fill="none"/>
<path d="M137.1 83.4 L138.2 86.2 L139.3 83.4" stroke="#3a3a3a" stroke-width="0.45" fill="none"/>
<path d="M139.3 83.4 L141.3 86.5 L143.3 83.4" stroke="#3a3a3a" stroke-width="0.45" fill="none"/>
<path d="M143.3 83.4 L144.7 85.5 L146.1 83.4" stroke="#3a3a3a" stroke-width="0.45" fill="none"/>
<path d="M146.1 83.4 L148.1 86.3 L150.1 83.4" stroke="#3a3a3a" stroke-width="0.45" fill="none"/>
<path d="M150.1 83.4 L151.8 85.5 L153.5 83.4" stroke="#3a3a3a" stroke-width="0.45" fill="none"/>
<path d="M153.5 83.4 L155.2 85.9 L156.9 83.4" stroke="#3a3a3a" stroke-width="0.45" fill="none"/>
<path d="M156.9 83.4 L158.3 85.8 L159.7 83.4" stroke="#3a3a3a" stroke-width="0.45" fill="none"/>
<path d="M159.7 83.4 L161.4 86.0 L163.1 83.4" stroke="#3a3a3a" stroke-width="0.45" fill="none"/>
<path d="M163.1 83.4 L164.2 86.6 L165.3 83.4" stroke="#3a3a3a" stroke-width="0.45" fill="none"/>
<path d="M165.3 83.4 L167.0 85.9 L168.7 83.4" stroke="#3a3a3a" stroke-width="0.45" fill="none"/>
<path d="M168.7 83.4 L170.7 86.0 L172.7 83.4" stroke="#3a3a3a" stroke-width="0.45" fill="none"/>
<path d="M172.7 83.4 L174.4 86.7 L176.1 83.4" stroke="#3a3a3a" stroke-width="0.45" fill="none"/>
<path d="M176.1 83.4 L177.8 86.9 L179.5 83.4" stroke="#3a3a3a" stroke-width="0.45" fill="none"/>
<path d="M179.5 83.4 L181.5 86.6 L183.5 83.4" stroke="#3a3a3a" stroke-width="0.45" fill="none"/>
<path d="M183.5 83.4 L185.2 85.7 L186.9 83.4" stroke="#3a3a3a" stroke-width="0.45" fill="none"/>
<path d="M186.9 83.4 L188.6 85.6 L190.3 83.4" stroke="#3a3a3a" stroke-width="0.45" fill="none"/>
<path d="M190.3 83.4 L191.4 86.6 L192.5 83.4" stroke="#3a3a3a" stroke-width="0.45" fill="none"/>
<path d="M192.5 83.4 L193.6 86.0 L194.7 83.4" stroke="#3a3a3a" stroke-width="0.45" fill="none"/>
<path d="M194.7 83.4 L196.7 86.2 L198.7 83.4" stroke="#3a3a3a" stroke-width="0.45" fill="none"/>
<path d="M198.7 83.4 L199.8 86.0 L200.9 83.4" stroke="#3a3a3a" stroke-width="0.45" fill="none"/>
<path d="M200.9 83.4 L202.0 85.4 L203.1 83.4" stroke="#3a3a3a" stroke-width="0.45" fill="none"/>
<path d="M203.1 83.4 L204.5 86.6 L205.9 83.4" stroke="#3a3a3a" stroke-width="0.45" fill="none"/>
<path d="M205.9 83.4 L207.9 86.3 L209.9 83.4" stroke="#3a3a3a" stroke-width="0.45" fill="none"/>
<path d="M209.9 83.4 L211.0 86.6 L212.1 83.4" stroke="#3a3a3a" stroke-width="0.45" fill="none"/>
<path d="M212.1 83.4 L214.1 86.3 L216.1 83.4" stroke="#3a3a3a" stroke-width="0.45" fill="none"/>
<path d="M216.1 83.4 L217.2 85.7 L218.3 83.4" stroke="#3a3a3a" stroke-width="0.45" fill="none"/>
<path d="M218.3 83.4 L220.3 86.3 L222.3 83.4" stroke="#3a3a3a" stroke-width="0.45" fill="none"/>
<path d="M222.3 83.4 L223.7 85.6 L225.1 83.4" stroke="#3a3a3a" stroke-width="0.45" fill="none"/>
<path d="M225.1 83.4 L226.5 86.7 L227.9 83.4" stroke="#3a3a3a" stroke-width="0.45" fill="none"/>
<path d="M227.9 83.4 L229.9 86.6 L231.9 83.4" stroke="#3a3a3a" stroke-width="0.45" fill="none"/>
<path d="M231.9 83.4 L233.0 86.0 L234.1 83.4" stroke="#3a3a3a" stroke-width="0.45" fill="none"/>
<path d="M234.1 83.4 L235.5 86.6 L236.9 83.4" stroke="#3a3a3a" stroke-width="0.45" fill="none"/>
<path d="M236.9 83.4 L238.6 86.7 L240.3 83.4" stroke="#3a3a3a" stroke-width="0.45" fill="none"/>
<path d="M240.3 83.4 L241.7 86.0 L243.1 83.4" stroke="#3a3a3a" stroke-width="0.45" fill="none"/>
<path d="M243.1 83.4 L244.8 85.4 L246.5 83.4" stroke="#3a3a3a" stroke-width="0.45" fill="none"/>
<path d="M246.5 83.4 L247.6 86.1 L248.7 83.4" stroke="#3a3a3a" stroke-width="0.45" fill="none"/>
<path d="M248.7 83.4 L249.8 86.6 L250.9 83.4" stroke="#3a3a3a" stroke-width="0.45" fill="none"/>
<path d="M250.9 83.4 L252.9 86.3 L254.9 83.4" stroke="#3a3a3a" stroke-width="0.45" fill="none"/>
<path d="M254.9 83.4 L256.9 86.1 L258.9 83.4" stroke="#3a3a3a" stroke-width="0.45" fill="none"/>
<path d="M258.9 83.4 L260.0 86.4 L261.1 83.4" stroke="#3a3a3a" stroke-width="0.45" fill="none"/>
<path d="M261.1 83.4 L262.5 86.1 L263.9 83.4" stroke="#3a3a3a" stroke-width="0.45" fill="none"/>
<path d="M263.9 83.4 L265.9 86.2 L267.9 83.4" stroke="#3a3a3a" stroke-width="0.45" fill="none"/>
<path d="M267.9 83.4 L269.0 86.4 L270.1 83.4" stroke="#3a3a3a" stroke-width="0.45" fill="none"/>
<path d="M270.1 83.4 L271.5 86.7 L272.9 83.4" stroke="#3a3a3a" stroke-width="0.45" fill="none"/>
<path d="M272.9 83.4 L274.0 86.0 L275.1 83.4" stroke="#3a3a3a" stroke-width="0.45" fill="none"/>
<path d="M275.1 83.4 L276.2 86.4 L277.3 83.4" stroke="#3a3a3a" stroke-width="0.45" fill="none"/>
<path d="M277.3 83.4 L278.4 86.9 L279.5 83.4" stroke="#3a3a3a" stroke-width="0.45" fill="none"/>
<path d="M279.5 83.4 L280.6 85.7 L281.7 83.4" stroke="#3a3a3a" stroke-width="0.45" fill="none"/>
<path d="M281.7 83.4 L282.8 85.6 L283.9 83.4" stroke="#3a3a3a" stroke-width="0.45" fill="none"/>
<path d="M283.9 83.4 L285.0 85.8 L286.1 83.4" stroke="#3a3a3a" stroke-width="0.45" fill="none"/>
<path d="M286.1 83.4 L287.5 86.1 L288.9 83.4" stroke="#3a3a3a" stroke-width="0.45" fill="none"/>
<path d="M288.9 83.4 L290.3 86.8 L291.0 83.4" stroke="#3a3a3a" stroke-width="0.45" fill="none"/>
<path d="M95.5 88.3 V99 H134 V91.8" stroke="#555" stroke-width="0.5" fill="none"/>
<path d="M114.6 99 V104.3" stroke="#555" stroke-width="0.5" fill="none"/>
<path d="M118.7 89 V91.8 H150 V90" stroke="#555" stroke-width="0.5" fill="none"/>
<path d="M140.7 86.5 V90 H161 V86" stroke="#555" stroke-width="0.5" fill="none"/>
<path d="M84 86 V88.3 H107 V86" stroke="#555" stroke-width="0.5" fill="none"/>
<path d="M181.8 91.8 V100.7 H194.8 V89" stroke="#555" stroke-width="0.5" fill="none"/>
<path d="M176 86 V91.8 H187 V86" stroke="#555" stroke-width="0.5" fill="none"/>
<path d="M188 100.7 V105.2" stroke="#555" stroke-width="0.5" fill="none"/>
<path d="M190 86 V89 H199 V86" stroke="#555" stroke-width="0.5" fill="none"/>
<path d="M200.7 89 V98 H214.5 V89" stroke="#555" stroke-width="0.5" fill="none"/>
<path d="M207.9 98 V105.2" stroke="#555" stroke-width="0.5" fill="none"/>
<path d="M196 86 V89 H205 V86" stroke="#555" stroke-width="0.5" fill="none"/>
<path d="M210 86 V89 H219 V86" stroke="#555" stroke-width="0.5" fill="none"/>
<path d="M232.3 89 V93.6 H249 V88" stroke="#555" stroke-width="0.5" fill="none"/>
<path d="M241 93.6 V99.8 H272 V95.4" stroke="#555" stroke-width="0.5" fill="none"/>
<path d="M256.4 99.8 V105.2" stroke="#555" stroke-width="0.5" fill="none"/>
<path d="M259.3 85 V95.4 H283.7 V87" stroke="#555" stroke-width="0.5" fill="none"/>
<path d="M228 86 V89 H236 V86" stroke="#555" stroke-width="0.5" fill="none"/>
<path d="M244 86 V88 H253 V86" stroke="#555" stroke-width="0.5" fill="none"/>
<path d="M279 86 V87 H288 V86" stroke="#555" stroke-width="0.5" fill="none"/>
<text x="8.90" y="117.90" font-size="9.4" fill="#222" textLength="5.40" lengthAdjust="spacingAndGlyphs">B</text>
<path d="M21.3 185.2 V124.1 H143.3 V185.2" stroke="#e4e4e4" stroke-width="0.5" fill="none" stroke-dasharray="0.8 0.6"/>
<path d="M27.0 184.2 V126.8 H139.6 V184.2 H27.0" stroke="#d6d6de" stroke-width="0.5" fill="none" stroke-dasharray="1 0.5"/>
<line x1="38.60" y1="142.70" x2="38.60" y2="146.25" stroke="#f06c7c" stroke-width="0.6"/>
<line x1="38.60" y1="153.50" x2="38.60" y2="184.20" stroke="#f06c7c" stroke-width="0.6"/>
<line x1="35.96" y1="142.70" x2="41.24" y2="142.70" stroke="#f06c7c" stroke-width="0.6"/>
<rect x="35.30" y="146.25" width="6.60" height="7.25" fill="none" stroke="#f06c7c" stroke-width="0.6"/>
<line x1="35.30" y1="149.50" x2="41.90" y2="149.50" stroke="#f06c7c" stroke-width="0.6"/>
<line x1="61.50" y1="142.90" x2="61.50" y2="146.40" stroke="#f06c7c" stroke-width="0.6"/>
<line x1="61.50" y1="153.50" x2="61.50" y2="184.20" stroke="#f06c7c" stroke-width="0.6"/>
<line x1="58.86" y1="142.90" x2="64.14" y2="142.90" stroke="#f06c7c" stroke-width="0.6"/>
<rect x="58.20" y="146.40" width="6.60" height="7.10" fill="none" stroke="#f06c7c" stroke-width="0.6"/>
<line x1="58.20" y1="149.80" x2="64.80" y2="149.80" stroke="#f06c7c" stroke-width="0.6"/>
<line x1="83.50" y1="142.50" x2="83.50" y2="146.25" stroke="#f06c7c" stroke-width="0.6"/>
<line x1="83.50" y1="153.30" x2="83.50" y2="184.20" stroke="#f06c7c" stroke-width="0.6"/>
<line x1="80.86" y1="142.50" x2="86.14" y2="142.50" stroke="#f06c7c" stroke-width="0.6"/>
<rect x="80.20" y="146.25" width="6.60" height="7.05" fill="none" stroke="#f06c7c" stroke-width="0.6"/>
<line x1="80.20" y1="149.50" x2="86.80" y2="149.50" stroke="#f06c7c" stroke-width="0.6"/>
<line x1="106.00" y1="142.50" x2="106.00" y2="146.00" stroke="#f06c7c" stroke-width="0.6"/>
<line x1="106.00" y1="153.50" x2="106.00" y2="184.20" stroke="#f06c7c" stroke-width="0.6"/>
<line x1="103.36" y1="142.50" x2="108.64" y2="142.50" stroke="#f06c7c" stroke-width="0.6"/>
<rect x="102.70" y="146.00" width="6.60" height="7.50" fill="none" stroke="#f06c7c" stroke-width="0.6"/>
<line x1="102.70" y1="149.50" x2="109.30" y2="149.50" stroke="#f06c7c" stroke-width="0.6"/>
<line x1="128.50" y1="142.25" x2="128.50" y2="146.25" stroke="#f06c7c" stroke-width="0.6"/>
<line x1="128.50" y1="153.25" x2="128.50" y2="184.20" stroke="#f06c7c" stroke-width="0.6"/>
<line x1="125.86" y1="142.25" x2="131.14" y2="142.25" stroke="#f06c7c" stroke-width="0.6"/>
<rect x="125.20" y="146.25" width="6.60" height="7.00" fill="none" stroke="#f06c7c" stroke-width="0.6"/>
<line x1="125.20" y1="149.25" x2="131.80" y2="149.25" stroke="#f06c7c" stroke-width="0.6"/>
<text x="0" y="0" font-size="5.6" fill="#222" stroke="#222" stroke-width="0.06" textLength="11.10" lengthAdjust="spacingAndGlyphs" transform="translate(22.8 160.8) rotate(-90)">CCR5</text>
<text x="25.80" y="180.00" font-size="2.4" fill="#c0c0c0" text-anchor="middle" transform="rotate(-90 25.80 180.00)">0.01</text>
<text x="25.80" y="170.00" font-size="2.4" fill="#c0c0c0" text-anchor="middle" transform="rotate(-90 25.80 170.00)">0.1</text>
<text x="25.80" y="160.00" font-size="2.4" fill="#c0c0c0" text-anchor="middle" transform="rotate(-90 25.80 160.00)">1</text>
<text x="25.80" y="150.00" font-size="2.4" fill="#c0c0c0" text-anchor="middle" transform="rotate(-90 25.80 150.00)">10</text>
<text x="25.80" y="140.00" font-size="2.4" fill="#c0c0c0" text-anchor="middle" transform="rotate(-90 25.80 140.00)">100</text>
<text x="25.80" y="130.00" font-size="2.4" fill="#c0c0c0" text-anchor="middle" transform="rotate(-90 25.80 130.00)">1000</text>
<path d="M37.2 140.3 V138.9 H58.7 V140.3" stroke="#505050" stroke-width="0.6" fill="none"/>
<text x="42.60" y="138.00" font-size="3.4" fill="#111" textLength="9.40" lengthAdjust="spacingAndGlyphs" stroke="#111" stroke-width="0.12">*p&lt;0.001</text>
<path d="M60.4 138.5 V136.5 H104.5 V138.5" stroke="#505050" stroke-width="0.6" fill="none"/>
<text x="77.10" y="135.00" font-size="3.4" fill="#111" textLength="10.80" lengthAdjust="spacingAndGlyphs" stroke="#111" stroke-width="0.12">*p&lt;0.001</text>
<text x="34.50" y="190.00" font-size="5.1" fill="#1a1a1a" textLength="12.50" lengthAdjust="spacingAndGlyphs" stroke="#1a1a1a" stroke-width="0.1">Rectal</text>
<text x="58.60" y="190.00" font-size="5.1" fill="#1a1a1a" textLength="8.00" lengthAdjust="spacingAndGlyphs" stroke="#1a1a1a" stroke-width="0.1">Left</text>
<text x="77.00" y="190.00" font-size="5.1" fill="#1a1a1a" textLength="21.40" lengthAdjust="spacingAndGlyphs" stroke="#1a1a1a" stroke-width="0.1">Transverse</text>
<text x="102.50" y="190.00" font-size="5.1" fill="#1a1a1a" textLength="10.70" lengthAdjust="spacingAndGlyphs" stroke="#1a1a1a" stroke-width="0.1">Right</text>
<text x="120.40" y="190.00" font-size="5.1" fill="#1a1a1a" textLength="16.40" lengthAdjust="spacingAndGlyphs" stroke="#1a1a1a" stroke-width="0.1">Unclear</text>
<text x="5.00" y="195.90" font-size="5.1" fill="#1a1a1a" textLength="25.70" lengthAdjust="spacingAndGlyphs" stroke="#1a1a1a" stroke-width="0.1">Median TPM</text>
<text x="35.70" y="195.90" font-size="5.1" fill="#1a1a1a" textLength="8.60" lengthAdjust="spacingAndGlyphs" stroke="#1a1a1a" stroke-width="0.1">3.24</text>
<text x="58.60" y="195.90" font-size="5.1" fill="#1a1a1a" textLength="8.00" lengthAdjust="spacingAndGlyphs" stroke="#1a1a1a" stroke-width="0.1">2.88</text>
<text x="82.90" y="195.90" font-size="5.1" fill="#1a1a1a" textLength="8.35" lengthAdjust="spacingAndGlyphs" stroke="#1a1a1a" stroke-width="0.1">3.13</text>
<text x="103.40" y="195.90" font-size="5.1" fill="#1a1a1a" textLength="8.90" lengthAdjust="spacingAndGlyphs" stroke="#1a1a1a" stroke-width="0.1">3.31</text>
<text x="123.00" y="195.90" font-size="5.1" fill="#1a1a1a" textLength="9.00" lengthAdjust="spacingAndGlyphs" stroke="#1a1a1a" stroke-width="0.1">3.30</text>
<text x="163.60" y="120.70" font-size="9.3" fill="#222" textLength="5.30" lengthAdjust="spacingAndGlyphs">C</text>
<path d="M189.5 189.5 V124.0 H304.2 V189.5" stroke="#e4e4e4" stroke-width="0.5" fill="none" stroke-dasharray="0.8 0.6"/>
<path d="M192.5 188.5 V126.0 H302.4 V188.5 H192.5" stroke="#d6d6de" stroke-width="0.5" fill="none" stroke-dasharray="1 0.5"/>
<line x1="204.05" y1="145.70" x2="204.05" y2="151.20" stroke="#f06c7c" stroke-width="0.6"/>
<line x1="204.05" y1="159.70" x2="204.05" y2="188.50" stroke="#f06c7c" stroke-width="0.6"/>
<line x1="201.69" y1="145.70" x2="206.41" y2="145.70" stroke="#f06c7c" stroke-width="0.6"/>
<rect x="201.10" y="151.20" width="5.90" height="8.50" fill="none" stroke="#f06c7c" stroke-width="0.6"/>
<line x1="201.10" y1="155.60" x2="207.00" y2="155.60" stroke="#f06c7c" stroke-width="0.6"/>
<line x1="226.05" y1="147.10" x2="226.05" y2="151.75" stroke="#f06c7c" stroke-width="0.6"/>
<line x1="226.05" y1="160.75" x2="226.05" y2="188.50" stroke="#f06c7c" stroke-width="0.6"/>
<line x1="223.69" y1="147.10" x2="228.41" y2="147.10" stroke="#f06c7c" stroke-width="0.6"/>
<rect x="223.10" y="151.75" width="5.90" height="9.00" fill="none" stroke="#f06c7c" stroke-width="0.6"/>
<line x1="223.10" y1="156.40" x2="229.00" y2="156.40" stroke="#f06c7c" stroke-width="0.6"/>
<line x1="247.90" y1="146.30" x2="247.90" y2="151.20" stroke="#f06c7c" stroke-width="0.6"/>
<line x1="247.90" y1="159.95" x2="247.90" y2="188.50" stroke="#f06c7c" stroke-width="0.6"/>
<line x1="245.54" y1="146.30" x2="250.26" y2="146.30" stroke="#f06c7c" stroke-width="0.6"/>
<rect x="244.95" y="151.20" width="5.90" height="8.75" fill="none" stroke="#f06c7c" stroke-width="0.6"/>
<line x1="244.95" y1="155.60" x2="250.85" y2="155.60" stroke="#f06c7c" stroke-width="0.6"/>
<line x1="269.50" y1="145.50" x2="269.50" y2="150.10" stroke="#f06c7c" stroke-width="0.6"/>
<line x1="269.50" y1="159.70" x2="269.50" y2="188.50" stroke="#f06c7c" stroke-width="0.6"/>
<line x1="267.14" y1="145.50" x2="271.86" y2="145.50" stroke="#f06c7c" stroke-width="0.6"/>
<rect x="266.55" y="150.10" width="5.90" height="9.60" fill="none" stroke="#f06c7c" stroke-width="0.6"/>
<line x1="266.55" y1="154.75" x2="272.45" y2="154.75" stroke="#f06c7c" stroke-width="0.6"/>
<line x1="291.40" y1="145.50" x2="291.40" y2="150.40" stroke="#f06c7c" stroke-width="0.6"/>
<line x1="291.40" y1="160.50" x2="291.40" y2="188.50" stroke="#f06c7c" stroke-width="0.6"/>
<line x1="289.04" y1="145.50" x2="293.76" y2="145.50" stroke="#f06c7c" stroke-width="0.6"/>
<rect x="288.45" y="150.40" width="5.90" height="10.10" fill="none" stroke="#f06c7c" stroke-width="0.6"/>
<line x1="288.45" y1="155.30" x2="294.35" y2="155.30" stroke="#f06c7c" stroke-width="0.6"/>
<text x="0" y="0" font-size="5.6" fill="#222" stroke="#222" stroke-width="0.06" textLength="10.20" lengthAdjust="spacingAndGlyphs" transform="translate(185.9 161.8) rotate(-90)">CCL5</text>
<text x="190.90" y="129.50" font-size="2.4" fill="#999" text-anchor="middle" transform="rotate(-90 190.90 129.50)">1000</text>
<text x="190.90" y="137.50" font-size="2.4" fill="#999" text-anchor="middle" transform="rotate(-90 190.90 137.50)">100</text>
<text x="190.90" y="146.50" font-size="2.4" fill="#999" text-anchor="middle" transform="rotate(-90 190.90 146.50)">10</text>
<text x="190.90" y="165.00" font-size="2.4" fill="#999" text-anchor="middle" transform="rotate(-90 190.90 165.00)">0.001</text>
<text x="190.90" y="176.00" font-size="2.4" fill="#999" text-anchor="middle" transform="rotate(-90 190.90 176.00)">0.0001</text>
<text x="190.90" y="185.50" font-size="2.4" fill="#999" text-anchor="middle" transform="rotate(-90 190.90 185.50)">0</text>
<path d="M202.6 144.3 V142.9 H226.8 V144.6" stroke="#505050" stroke-width="0.6" fill="none"/>
<text x="209.50" y="140.80" font-size="3.4" fill="#111" textLength="9.50" lengthAdjust="spacingAndGlyphs" stroke="#111" stroke-width="0.12">*p&lt;0.05</text>
<path d="M229.2 144.2 V142.5 H249.9 V144.4" stroke="#505050" stroke-width="0.6" fill="none"/>
<text x="233.30" y="141.00" font-size="3.4" fill="#111" textLength="10.60" lengthAdjust="spacingAndGlyphs" stroke="#111" stroke-width="0.12">*p&lt;0.037</text>
<path d="M224.4 138.7 V136.9 H270.7 V139.3" stroke="#505050" stroke-width="0.6" fill="none"/>
<text x="241.50" y="135.30" font-size="3.4" fill="#111" textLength="10.20" lengthAdjust="spacingAndGlyphs" stroke="#111" stroke-width="0.12">*p&lt;0.001</text>
<text x="198.90" y="193.10" font-size="5.1" fill="#1a1a1a" textLength="12.20" lengthAdjust="spacingAndGlyphs" stroke="#1a1a1a" stroke-width="0.1">Rectal</text>
<text x="223.45" y="193.10" font-size="5.1" fill="#1a1a1a" textLength="7.55" lengthAdjust="spacingAndGlyphs" stroke="#1a1a1a" stroke-width="0.1">Left</text>
<text x="241.50" y="193.10" font-size="5.1" fill="#1a1a1a" textLength="21.40" lengthAdjust="spacingAndGlyphs" stroke="#1a1a1a" stroke-width="0.1">Transverse</text>
<text x="267.90" y="193.10" font-size="5.1" fill="#1a1a1a" textLength="10.30" lengthAdjust="spacingAndGlyphs" stroke="#1a1a1a" stroke-width="0.1">Right</text>
<text x="285.70" y="193.10" font-size="5.1" fill="#1a1a1a" textLength="11.10" lengthAdjust="spacingAndGlyphs" stroke="#1a1a1a" stroke-width="0.1">Unclear</text>
<text x="168.90" y="199.90" font-size="5.1" fill="#1a1a1a" textLength="26.10" lengthAdjust="spacingAndGlyphs" stroke="#1a1a1a" stroke-width="0.1">Median TPM</text>
<text x="198.90" y="199.90" font-size="5.1" fill="#1a1a1a" textLength="9.85" lengthAdjust="spacingAndGlyphs" stroke="#1a1a1a" stroke-width="0.1">7.08</text>
<text x="223.45" y="199.90" font-size="5.1" fill="#1a1a1a" textLength="7.95" lengthAdjust="spacingAndGlyphs" stroke="#1a1a1a" stroke-width="0.1">6.11</text>
<text x="246.00" y="199.90" font-size="5.1" fill="#1a1a1a" textLength="7.60" lengthAdjust="spacingAndGlyphs" stroke="#1a1a1a" stroke-width="0.1">7.20</text>
<text x="268.75" y="199.90" font-size="5.1" fill="#1a1a1a" textLength="8.05" lengthAdjust="spacingAndGlyphs" stroke="#1a1a1a" stroke-width="0.1">7.58</text>
<text x="288.75" y="199.90" font-size="5.1" fill="#1a1a1a" textLength="7.15" lengthAdjust="spacingAndGlyphs" stroke="#1a1a1a" stroke-width="0.1">7.12</text>
<text x="12.70" y="225.20" font-size="9.0" fill="#222" textLength="6.00" lengthAdjust="spacingAndGlyphs">D</text>
<text x="42.1" y="234.59" font-size="5.8" fill="#1a1a1a" stroke="#1a1a1a" stroke-width="0.06" textLength="99.70" lengthAdjust="spacingAndGlyphs"><tspan font-style="italic">CCR5</tspan> expression quartiles (entire cohort)</text>
<line x1="33.00" y1="243.90" x2="33.00" y2="316.00" stroke="#666" stroke-width="0.6"/>
<line x1="33.00" y1="316.00" x2="153.00" y2="316.00" stroke="#666" stroke-width="0.6"/>
<line x1="31.70" y1="315.70" x2="33.00" y2="315.70" stroke="#7a7a7a" stroke-width="0.5"/>
<text x="30.60" y="316.85" font-size="3.2" fill="#222" text-anchor="end" stroke="#222" stroke-width="0.13">0%</text>
<line x1="31.70" y1="303.80" x2="33.00" y2="303.80" stroke="#7a7a7a" stroke-width="0.5"/>
<text x="30.60" y="304.95" font-size="3.2" fill="#222" text-anchor="end" stroke="#222" stroke-width="0.13">20%</text>
<line x1="31.70" y1="291.90" x2="33.00" y2="291.90" stroke="#7a7a7a" stroke-width="0.5"/>
<text x="30.60" y="293.05" font-size="3.2" fill="#222" text-anchor="end" stroke="#222" stroke-width="0.13">40%</text>
<line x1="31.70" y1="280.00" x2="33.00" y2="280.00" stroke="#7a7a7a" stroke-width="0.5"/>
<text x="30.60" y="281.15" font-size="3.2" fill="#222" text-anchor="end" stroke="#222" stroke-width="0.13">60%</text>
<line x1="31.70" y1="268.10" x2="33.00" y2="268.10" stroke="#7a7a7a" stroke-width="0.5"/>
<text x="30.60" y="269.25" font-size="3.2" fill="#222" text-anchor="end" stroke="#222" stroke-width="0.13">80%</text>
<line x1="31.70" y1="256.20" x2="33.00" y2="256.20" stroke="#7a7a7a" stroke-width="0.5"/>
<text x="30.60" y="257.35" font-size="3.2" fill="#222" text-anchor="end" stroke="#222" stroke-width="0.13">100%</text>
<line x1="31.70" y1="244.30" x2="33.00" y2="244.30" stroke="#7a7a7a" stroke-width="0.5"/>
<text x="30.60" y="245.45" font-size="3.2" fill="#222" text-anchor="end" stroke="#222" stroke-width="0.13">120%</text>
<text x="20.60" y="283.40" font-size="3.3" fill="#333" text-anchor="middle" stroke="#333" stroke-width="0.08" transform="rotate(-90 20.60 283.40)">% CMS score</text>
<rect x="42.10" y="256.20" width="12.20" height="7.70" fill="#72b443"/>
<rect x="42.10" y="263.90" width="12.20" height="16.80" fill="#b8b8b8"/>
<rect x="42.10" y="280.70" width="12.20" height="29.10" fill="#3a7fcc"/>
<rect x="42.10" y="309.80" width="12.20" height="5.90" fill="#cc1414"/>
<text x="48.20" y="261.17" font-size="3.1" fill="#111" text-anchor="middle" stroke="#111" stroke-width="0.06">12.4%</text>
<text x="48.20" y="273.42" font-size="3.1" fill="#111" text-anchor="middle" stroke="#111" stroke-width="0.06">28.4%</text>
<text x="48.20" y="296.37" font-size="3.1" fill="#111" text-anchor="middle" stroke="#111" stroke-width="0.06">49.1%</text>
<text x="48.20" y="313.87" font-size="3.1" fill="#111" text-anchor="middle" stroke="#111" stroke-width="0.06">10.1%</text>
<text x="48.20" y="321.90" font-size="3.4" fill="#111" text-anchor="middle" font-weight="bold" stroke="#111" stroke-width="0.1">Q1</text>
<rect x="72.10" y="256.20" width="11.70" height="16.10" fill="#72b443"/>
<rect x="72.10" y="272.30" width="11.70" height="11.60" fill="#b8b8b8"/>
<rect x="72.10" y="283.90" width="11.70" height="23.60" fill="#3a7fcc"/>
<rect x="72.10" y="307.50" width="11.70" height="8.20" fill="#cc1414"/>
<text x="77.95" y="265.37" font-size="3.1" fill="#111" text-anchor="middle" stroke="#111" stroke-width="0.06">26.9%</text>
<text x="77.95" y="279.22" font-size="3.1" fill="#111" text-anchor="middle" stroke="#111" stroke-width="0.06">19.0%</text>
<text x="77.95" y="296.82" font-size="3.1" fill="#111" text-anchor="middle" stroke="#111" stroke-width="0.06">39.8%</text>
<text x="77.95" y="312.72" font-size="3.1" fill="#111" text-anchor="middle" stroke="#111" stroke-width="0.06">14.3%</text>
<text x="77.95" y="321.90" font-size="3.4" fill="#111" text-anchor="middle" font-weight="bold" stroke="#111" stroke-width="0.1">Q2</text>
<rect x="101.90" y="256.20" width="12.20" height="25.70" fill="#72b443"/>
<rect x="101.90" y="281.90" width="12.20" height="6.60" fill="#b8b8b8"/>
<rect x="101.90" y="288.50" width="12.20" height="16.80" fill="#3a7fcc"/>
<rect x="101.90" y="305.30" width="12.20" height="10.40" fill="#cc1414"/>
<text x="108.00" y="270.17" font-size="3.1" fill="#111" text-anchor="middle" stroke="#111" stroke-width="0.06">42.2%</text>
<text x="108.00" y="286.32" font-size="3.1" fill="#111" text-anchor="middle" stroke="#111" stroke-width="0.06">12.2%</text>
<text x="108.00" y="298.02" font-size="3.1" fill="#111" text-anchor="middle" stroke="#111" stroke-width="0.06">27.7%</text>
<text x="108.00" y="311.62" font-size="3.1" fill="#111" text-anchor="middle" stroke="#111" stroke-width="0.06">17.9%</text>
<text x="108.00" y="321.90" font-size="3.4" fill="#111" text-anchor="middle" font-weight="bold" stroke="#111" stroke-width="0.1">Q3</text>
<rect x="131.80" y="256.20" width="12.30" height="36.70" fill="#72b443"/>
<rect x="131.80" y="292.90" width="12.30" height="4.60" fill="#b8b8b8"/>
<rect x="131.80" y="297.50" width="12.30" height="6.50" fill="#3a7fcc"/>
<rect x="131.80" y="304.00" width="12.30" height="11.70" fill="#cc1414"/>
<text x="137.95" y="275.67" font-size="3.1" fill="#111" text-anchor="middle" stroke="#111" stroke-width="0.06">62.3%</text>
<text x="137.95" y="296.32" font-size="3.1" fill="#111" text-anchor="middle" stroke="#111" stroke-width="0.06">6.6%</text>
<text x="137.95" y="301.87" font-size="3.1" fill="#111" text-anchor="middle" stroke="#111" stroke-width="0.06">11.2%</text>
<text x="137.95" y="310.97" font-size="3.1" fill="#111" text-anchor="middle" stroke="#111" stroke-width="0.06">20.3%</text>
<text x="137.95" y="321.90" font-size="3.4" fill="#111" text-anchor="middle" font-weight="bold" stroke="#111" stroke-width="0.1">Q4</text>
<text x="165.10" y="227.60" font-size="9.5" fill="#222" textLength="4.20" lengthAdjust="spacingAndGlyphs">E</text>
<text x="188.1" y="235.69" font-size="5.8" fill="#1a1a1a" stroke="#1a1a1a" stroke-width="0.06" textLength="98.70" lengthAdjust="spacingAndGlyphs"><tspan font-style="italic">CCL5</tspan> expression quartiles (entire cohort)</text>
<line x1="184.90" y1="243.50" x2="184.90" y2="315.10" stroke="#666" stroke-width="0.6"/>
<line x1="184.90" y1="315.10" x2="310.30" y2="315.10" stroke="#666" stroke-width="0.6"/>
<line x1="183.60" y1="314.80" x2="184.90" y2="314.80" stroke="#7a7a7a" stroke-width="0.5"/>
<text x="182.50" y="315.95" font-size="3.2" fill="#222" text-anchor="end" stroke="#222" stroke-width="0.13">0%</text>
<line x1="183.60" y1="302.96" x2="184.90" y2="302.96" stroke="#7a7a7a" stroke-width="0.5"/>
<text x="182.50" y="304.11" font-size="3.2" fill="#222" text-anchor="end" stroke="#222" stroke-width="0.13">20%</text>
<line x1="183.60" y1="291.12" x2="184.90" y2="291.12" stroke="#7a7a7a" stroke-width="0.5"/>
<text x="182.50" y="292.27" font-size="3.2" fill="#222" text-anchor="end" stroke="#222" stroke-width="0.13">40%</text>
<line x1="183.60" y1="279.28" x2="184.90" y2="279.28" stroke="#7a7a7a" stroke-width="0.5"/>
<text x="182.50" y="280.43" font-size="3.2" fill="#222" text-anchor="end" stroke="#222" stroke-width="0.13">60%</text>
<line x1="183.60" y1="267.44" x2="184.90" y2="267.44" stroke="#7a7a7a" stroke-width="0.5"/>
<text x="182.50" y="268.59" font-size="3.2" fill="#222" text-anchor="end" stroke="#222" stroke-width="0.13">80%</text>
<line x1="183.60" y1="255.60" x2="184.90" y2="255.60" stroke="#7a7a7a" stroke-width="0.5"/>
<text x="182.50" y="256.75" font-size="3.2" fill="#222" text-anchor="end" stroke="#222" stroke-width="0.13">100%</text>
<line x1="183.60" y1="243.76" x2="184.90" y2="243.76" stroke="#7a7a7a" stroke-width="0.5"/>
<text x="182.50" y="244.91" font-size="3.2" fill="#222" text-anchor="end" stroke="#222" stroke-width="0.13">120%</text>
<rect x="194.20" y="255.60" width="12.50" height="8.40" fill="#72b443"/>
<rect x="194.20" y="264.00" width="12.50" height="15.80" fill="#b8b8b8"/>
<rect x="194.20" y="279.80" width="12.50" height="30.20" fill="#3a7fcc"/>
<rect x="194.20" y="310.00" width="12.50" height="4.80" fill="#cc1414"/>
<text x="200.45" y="260.92" font-size="3.1" fill="#111" text-anchor="middle" stroke="#111" stroke-width="0.06">13.9%</text>
<text x="200.45" y="273.02" font-size="3.1" fill="#111" text-anchor="middle" stroke="#111" stroke-width="0.06">26.4%</text>
<text x="200.45" y="296.02" font-size="3.1" fill="#111" text-anchor="middle" stroke="#111" stroke-width="0.06">51.3%</text>
<text x="200.45" y="313.52" font-size="3.1" fill="#111" text-anchor="middle" stroke="#111" stroke-width="0.06">8.3%</text>
<text x="200.45" y="320.40" font-size="3.4" fill="#111" text-anchor="middle" font-weight="bold" stroke="#111" stroke-width="0.1">Q1</text>
<rect x="225.20" y="255.60" width="13.10" height="17.70" fill="#72b443"/>
<rect x="225.20" y="273.30" width="13.10" height="11.70" fill="#b8b8b8"/>
<rect x="225.20" y="285.00" width="13.10" height="23.50" fill="#3a7fcc"/>
<rect x="225.20" y="308.50" width="13.10" height="6.30" fill="#cc1414"/>
<text x="231.75" y="265.57" font-size="3.1" fill="#111" text-anchor="middle" stroke="#111" stroke-width="0.06">29.7%</text>
<text x="231.75" y="280.27" font-size="3.1" fill="#111" text-anchor="middle" stroke="#111" stroke-width="0.06">19.7%</text>
<text x="231.75" y="297.87" font-size="3.1" fill="#111" text-anchor="middle" stroke="#111" stroke-width="0.06">39.2%</text>
<text x="231.75" y="312.77" font-size="3.1" fill="#111" text-anchor="middle" stroke="#111" stroke-width="0.06">11.4%</text>
<text x="231.75" y="320.40" font-size="3.4" fill="#111" text-anchor="middle" font-weight="bold" stroke="#111" stroke-width="0.1">Q2</text>
<rect x="257.10" y="255.60" width="12.50" height="27.30" fill="#72b443"/>
<rect x="257.10" y="282.90" width="12.50" height="8.10" fill="#b8b8b8"/>
<rect x="257.10" y="291.00" width="12.50" height="15.20" fill="#3a7fcc"/>
<rect x="257.10" y="306.20" width="12.50" height="8.60" fill="#cc1414"/>
<text x="263.35" y="270.37" font-size="3.1" fill="#111" text-anchor="middle" stroke="#111" stroke-width="0.06">46.0%</text>
<text x="263.35" y="288.07" font-size="3.1" fill="#111" text-anchor="middle" stroke="#111" stroke-width="0.06">13.8%</text>
<text x="263.35" y="299.72" font-size="3.1" fill="#111" text-anchor="middle" stroke="#111" stroke-width="0.06">25.3%</text>
<text x="263.35" y="311.62" font-size="3.1" fill="#111" text-anchor="middle" stroke="#111" stroke-width="0.06">14.8%</text>
<text x="263.35" y="320.40" font-size="3.4" fill="#111" text-anchor="middle" font-weight="bold" stroke="#111" stroke-width="0.1">Q3</text>
<rect x="288.30" y="255.60" width="12.50" height="31.70" fill="#72b443"/>
<rect x="288.30" y="287.30" width="12.50" height="4.30" fill="#b8b8b8"/>
<rect x="288.30" y="291.60" width="12.50" height="6.50" fill="#3a7fcc"/>
<rect x="288.30" y="298.10" width="12.50" height="16.70" fill="#cc1414"/>
<text x="294.55" y="272.57" font-size="3.1" fill="#111" text-anchor="middle" stroke="#111" stroke-width="0.06">53.8%</text>
<text x="294.55" y="290.57" font-size="3.1" fill="#111" text-anchor="middle" stroke="#111" stroke-width="0.06">6.3%</text>
<text x="294.55" y="295.97" font-size="3.1" fill="#111" text-anchor="middle" stroke="#111" stroke-width="0.06">11.8%</text>
<text x="294.55" y="307.57" font-size="3.1" fill="#111" text-anchor="middle" stroke="#111" stroke-width="0.06">28.1%</text>
<text x="294.55" y="320.40" font-size="3.4" fill="#111" text-anchor="middle" font-weight="bold" stroke="#111" stroke-width="0.1">Q4</text>
<text x="16.00" y="351.40" font-size="9.0" fill="#222" textLength="4.70" lengthAdjust="spacingAndGlyphs">F</text>
<text x="50.4" y="361.77" font-size="5.2" fill="#1a1a1a" stroke="#1a1a1a" stroke-width="0.06" textLength="77.60" lengthAdjust="spacingAndGlyphs">CCR5 expression quartiles (MSS)</text>
<line x1="41.60" y1="363.10" x2="41.60" y2="427.30" stroke="#666" stroke-width="0.6"/>
<line x1="41.60" y1="427.30" x2="161.80" y2="427.30" stroke="#666" stroke-width="0.6"/>
<line x1="40.30" y1="427.00" x2="41.60" y2="427.00" stroke="#7a7a7a" stroke-width="0.5"/>
<text x="39.20" y="428.04" font-size="2.9" fill="#222" text-anchor="end" stroke="#222" stroke-width="0.13">0%</text>
<line x1="40.30" y1="416.38" x2="41.60" y2="416.38" stroke="#7a7a7a" stroke-width="0.5"/>
<text x="39.20" y="417.42" font-size="2.9" fill="#222" text-anchor="end" stroke="#222" stroke-width="0.13">20%</text>
<line x1="40.30" y1="405.76" x2="41.60" y2="405.76" stroke="#7a7a7a" stroke-width="0.5"/>
<text x="39.20" y="406.80" font-size="2.9" fill="#222" text-anchor="end" stroke="#222" stroke-width="0.13">40%</text>
<line x1="40.30" y1="395.14" x2="41.60" y2="395.14" stroke="#7a7a7a" stroke-width="0.5"/>
<text x="39.20" y="396.18" font-size="2.9" fill="#222" text-anchor="end" stroke="#222" stroke-width="0.13">60%</text>
<line x1="40.30" y1="384.52" x2="41.60" y2="384.52" stroke="#7a7a7a" stroke-width="0.5"/>
<text x="39.20" y="385.56" font-size="2.9" fill="#222" text-anchor="end" stroke="#222" stroke-width="0.13">80%</text>
<line x1="40.30" y1="373.90" x2="41.60" y2="373.90" stroke="#7a7a7a" stroke-width="0.5"/>
<text x="39.20" y="374.94" font-size="2.9" fill="#222" text-anchor="end" stroke="#222" stroke-width="0.13">100%</text>
<line x1="40.30" y1="363.28" x2="41.60" y2="363.28" stroke="#7a7a7a" stroke-width="0.5"/>
<text x="39.20" y="364.32" font-size="2.9" fill="#222" text-anchor="end" stroke="#222" stroke-width="0.13">120%</text>
<text x="28.70" y="400.00" font-size="3.3" fill="#333" text-anchor="middle" stroke="#333" stroke-width="0.08" transform="rotate(-90 28.70 400.00)">% CMS score</text>
<rect x="50.90" y="373.90" width="12.00" height="6.80" fill="#72b443"/>
<rect x="50.90" y="380.70" width="12.00" height="15.20" fill="#b8b8b8"/>
<rect x="50.90" y="395.90" width="12.00" height="27.10" fill="#3a7fcc"/>
<rect x="50.90" y="423.00" width="12.00" height="4.00" fill="#cc1414"/>
<text x="56.90" y="378.38" font-size="3.0" fill="#111" text-anchor="middle" stroke="#111" stroke-width="0.06">13.0%</text>
<text x="56.90" y="389.38" font-size="3.0" fill="#111" text-anchor="middle" stroke="#111" stroke-width="0.06">28.0%</text>
<text x="56.90" y="410.53" font-size="3.0" fill="#111" text-anchor="middle" stroke="#111" stroke-width="0.06">51.3%</text>
<text x="56.90" y="426.08" font-size="3.0" fill="#111" text-anchor="middle" stroke="#111" stroke-width="0.06">7.6%</text>
<text x="56.90" y="433.30" font-size="3.4" fill="#111" text-anchor="middle" font-weight="bold" stroke="#111" stroke-width="0.1">Q1</text>
<rect x="80.60" y="373.90" width="11.60" height="15.10" fill="#72b443"/>
<rect x="80.60" y="389.00" width="11.60" height="10.20" fill="#b8b8b8"/>
<rect x="80.60" y="399.20" width="11.60" height="22.00" fill="#3a7fcc"/>
<rect x="80.60" y="421.20" width="11.60" height="5.80" fill="#cc1414"/>
<text x="86.40" y="382.53" font-size="3.0" fill="#111" text-anchor="middle" stroke="#111" stroke-width="0.06">27.6%</text>
<text x="86.40" y="395.18" font-size="3.0" fill="#111" text-anchor="middle" stroke="#111" stroke-width="0.06">19.2%</text>
<text x="86.40" y="411.28" font-size="3.0" fill="#111" text-anchor="middle" stroke="#111" stroke-width="0.06">41.5%</text>
<text x="86.40" y="425.18" font-size="3.0" fill="#111" text-anchor="middle" stroke="#111" stroke-width="0.06">11.6%</text>
<text x="86.40" y="433.30" font-size="3.4" fill="#111" text-anchor="middle" font-weight="bold" stroke="#111" stroke-width="0.1">Q2</text>
<rect x="110.00" y="373.90" width="11.80" height="23.50" fill="#72b443"/>
<rect x="110.00" y="397.40" width="11.80" height="6.80" fill="#b8b8b8"/>
<rect x="110.00" y="404.20" width="11.80" height="15.20" fill="#3a7fcc"/>
<rect x="110.00" y="419.40" width="11.80" height="7.60" fill="#cc1414"/>
<text x="115.90" y="386.73" font-size="3.0" fill="#111" text-anchor="middle" stroke="#111" stroke-width="0.06">44.1%</text>
<text x="115.90" y="401.88" font-size="3.0" fill="#111" text-anchor="middle" stroke="#111" stroke-width="0.06">12.8%</text>
<text x="115.90" y="412.88" font-size="3.0" fill="#111" text-anchor="middle" stroke="#111" stroke-width="0.06">29.4%</text>
<text x="115.90" y="424.28" font-size="3.0" fill="#111" text-anchor="middle" stroke="#111" stroke-width="0.06">13.6%</text>
<text x="115.90" y="433.30" font-size="3.4" fill="#111" text-anchor="middle" font-weight="bold" stroke="#111" stroke-width="0.1">Q3</text>
<rect x="139.60" y="373.90" width="12.10" height="36.10" fill="#72b443"/>
<rect x="139.60" y="410.00" width="12.10" height="3.90" fill="#b8b8b8"/>
<rect x="139.60" y="413.90" width="12.10" height="5.50" fill="#3a7fcc"/>
<rect x="139.60" y="419.40" width="12.10" height="7.60" fill="#cc1414"/>
<text x="145.65" y="393.03" font-size="3.0" fill="#111" text-anchor="middle" stroke="#111" stroke-width="0.06">66.9%</text>
<text x="145.65" y="413.03" font-size="3.0" fill="#111" text-anchor="middle" stroke="#111" stroke-width="0.06">7.0%</text>
<text x="145.65" y="417.73" font-size="3.0" fill="#111" text-anchor="middle" stroke="#111" stroke-width="0.06">12.1%</text>
<text x="145.65" y="424.28" font-size="3.0" fill="#111" text-anchor="middle" stroke="#111" stroke-width="0.06">14.0%</text>
<text x="145.65" y="433.30" font-size="3.4" fill="#111" text-anchor="middle" font-weight="bold" stroke="#111" stroke-width="0.1">Q4</text>
<circle cx="56.0" cy="438.3" r="0.85" fill="#cc1414"/>
<text x="57.40" y="439.75" font-size="4.1" fill="#111" textLength="17.40" lengthAdjust="spacingAndGlyphs" stroke="#111" stroke-width="0.14">% CMS1</text>
<circle cx="80.5" cy="438.3" r="0.85" fill="#3a7fcc"/>
<text x="81.90" y="439.75" font-size="4.1" fill="#111" textLength="16.10" lengthAdjust="spacingAndGlyphs" stroke="#111" stroke-width="0.14">% CMS2</text>
<circle cx="104.8" cy="438.3" r="0.85" fill="#b8b8b8"/>
<text x="106.20" y="439.75" font-size="4.1" fill="#111" textLength="15.10" lengthAdjust="spacingAndGlyphs" stroke="#111" stroke-width="0.14">% CMS3</text>
<circle cx="129.8" cy="438.3" r="0.85" fill="#72b443"/>
<text x="131.20" y="439.75" font-size="4.1" fill="#111" textLength="16.20" lengthAdjust="spacingAndGlyphs" stroke="#111" stroke-width="0.14">% CMS4</text>
<text x="161.30" y="346.90" font-size="9.3" fill="#222" textLength="6.30" lengthAdjust="spacingAndGlyphs">G</text>
<text x="199.4" y="361.24" font-size="5.1" fill="#1a1a1a" stroke="#1a1a1a" stroke-width="0.06" textLength="76.20" lengthAdjust="spacingAndGlyphs">CCL5 expression quartiles (MSS)</text>
<line x1="188.30" y1="362.50" x2="188.30" y2="427.50" stroke="#666" stroke-width="0.6"/>
<line x1="188.30" y1="427.50" x2="307.00" y2="427.50" stroke="#666" stroke-width="0.6"/>
<line x1="187.00" y1="427.20" x2="188.30" y2="427.20" stroke="#7a7a7a" stroke-width="0.5"/>
<text x="185.90" y="428.24" font-size="2.9" fill="#222" text-anchor="end" stroke="#222" stroke-width="0.13">0%</text>
<line x1="187.00" y1="416.44" x2="188.30" y2="416.44" stroke="#7a7a7a" stroke-width="0.5"/>
<text x="185.90" y="417.48" font-size="2.9" fill="#222" text-anchor="end" stroke="#222" stroke-width="0.13">20%</text>
<line x1="187.00" y1="405.68" x2="188.30" y2="405.68" stroke="#7a7a7a" stroke-width="0.5"/>
<text x="185.90" y="406.72" font-size="2.9" fill="#222" text-anchor="end" stroke="#222" stroke-width="0.13">40%</text>
<line x1="187.00" y1="394.92" x2="188.30" y2="394.92" stroke="#7a7a7a" stroke-width="0.5"/>
<text x="185.90" y="395.96" font-size="2.9" fill="#222" text-anchor="end" stroke="#222" stroke-width="0.13">60%</text>
<line x1="187.00" y1="384.16" x2="188.30" y2="384.16" stroke="#7a7a7a" stroke-width="0.5"/>
<text x="185.90" y="385.20" font-size="2.9" fill="#222" text-anchor="end" stroke="#222" stroke-width="0.13">80%</text>
<line x1="187.00" y1="373.40" x2="188.30" y2="373.40" stroke="#7a7a7a" stroke-width="0.5"/>
<text x="185.90" y="374.44" font-size="2.9" fill="#222" text-anchor="end" stroke="#222" stroke-width="0.13">100%</text>
<line x1="187.00" y1="362.64" x2="188.30" y2="362.64" stroke="#7a7a7a" stroke-width="0.5"/>
<text x="185.90" y="363.68" font-size="2.9" fill="#222" text-anchor="end" stroke="#222" stroke-width="0.13">120%</text>
<rect x="197.50" y="373.40" width="11.40" height="6.00" fill="#72b443"/>
<rect x="197.50" y="379.40" width="11.40" height="15.50" fill="#b8b8b8"/>
<rect x="197.50" y="394.90" width="11.40" height="27.80" fill="#3a7fcc"/>
<rect x="197.50" y="422.70" width="11.40" height="4.50" fill="#cc1414"/>
<text x="203.20" y="377.48" font-size="3.0" fill="#111" text-anchor="middle" stroke="#111" stroke-width="0.06">14.0%</text>
<text x="203.20" y="388.23" font-size="3.0" fill="#111" text-anchor="middle" stroke="#111" stroke-width="0.06">25.9%</text>
<text x="203.20" y="409.88" font-size="3.0" fill="#111" text-anchor="middle" stroke="#111" stroke-width="0.06">52.6%</text>
<text x="203.20" y="426.03" font-size="3.0" fill="#111" text-anchor="middle" stroke="#111" stroke-width="0.06">7.6%</text>
<text x="203.20" y="433.20" font-size="3.4" fill="#111" text-anchor="middle" font-weight="bold" stroke="#111" stroke-width="0.1">Q1</text>
<rect x="227.10" y="373.40" width="11.90" height="16.40" fill="#72b443"/>
<rect x="227.10" y="389.80" width="11.90" height="9.90" fill="#b8b8b8"/>
<rect x="227.10" y="399.70" width="11.90" height="22.30" fill="#3a7fcc"/>
<rect x="227.10" y="422.00" width="11.90" height="5.20" fill="#cc1414"/>
<text x="233.05" y="382.68" font-size="3.0" fill="#111" text-anchor="middle" stroke="#111" stroke-width="0.06">30.6%</text>
<text x="233.05" y="395.83" font-size="3.0" fill="#111" text-anchor="middle" stroke="#111" stroke-width="0.06">19.4%</text>
<text x="233.05" y="411.93" font-size="3.0" fill="#111" text-anchor="middle" stroke="#111" stroke-width="0.06">40.3%</text>
<text x="233.05" y="425.68" font-size="3.0" fill="#111" text-anchor="middle" stroke="#111" stroke-width="0.06">9.8%</text>
<text x="233.05" y="433.20" font-size="3.4" fill="#111" text-anchor="middle" font-weight="bold" stroke="#111" stroke-width="0.1">Q2</text>
<rect x="257.20" y="373.40" width="11.20" height="26.30" fill="#72b443"/>
<rect x="257.20" y="399.70" width="11.20" height="6.30" fill="#b8b8b8"/>
<rect x="257.20" y="406.00" width="11.20" height="14.70" fill="#3a7fcc"/>
<rect x="257.20" y="420.70" width="11.20" height="6.50" fill="#cc1414"/>
<text x="262.80" y="387.63" font-size="3.0" fill="#111" text-anchor="middle" stroke="#111" stroke-width="0.06">47.8%</text>
<text x="262.80" y="403.93" font-size="3.0" fill="#111" text-anchor="middle" stroke="#111" stroke-width="0.06">14.1%</text>
<text x="262.80" y="414.43" font-size="3.0" fill="#111" text-anchor="middle" stroke="#111" stroke-width="0.06">26.4%</text>
<text x="262.80" y="425.03" font-size="3.0" fill="#111" text-anchor="middle" stroke="#111" stroke-width="0.06">11.6%</text>
<text x="262.80" y="433.20" font-size="3.4" fill="#111" text-anchor="middle" font-weight="bold" stroke="#111" stroke-width="0.1">Q3</text>
<rect x="286.80" y="373.40" width="11.90" height="33.40" fill="#72b443"/>
<rect x="286.80" y="406.80" width="11.90" height="3.20" fill="#b8b8b8"/>
<rect x="286.80" y="410.00" width="11.90" height="6.90" fill="#3a7fcc"/>
<rect x="286.80" y="416.90" width="11.90" height="10.30" fill="#cc1414"/>
<text x="292.75" y="391.18" font-size="3.0" fill="#111" text-anchor="middle" stroke="#111" stroke-width="0.06">61.0%</text>
<text x="292.75" y="409.48" font-size="3.0" fill="#111" text-anchor="middle" stroke="#111" stroke-width="0.06">5.9%</text>
<text x="292.75" y="414.53" font-size="3.0" fill="#111" text-anchor="middle" stroke="#111" stroke-width="0.06">13.7%</text>
<text x="292.75" y="423.13" font-size="3.0" fill="#111" text-anchor="middle" stroke="#111" stroke-width="0.06">19.3%</text>
<text x="292.75" y="433.20" font-size="3.4" fill="#111" text-anchor="middle" font-weight="bold" stroke="#111" stroke-width="0.1">Q4</text>
<circle cx="202.1" cy="438.3" r="0.85" fill="#cc1414"/>
<text x="203.50" y="439.75" font-size="4.1" fill="#111" textLength="17.90" lengthAdjust="spacingAndGlyphs" stroke="#111" stroke-width="0.14">% CMS1</text>
<circle cx="226.3" cy="438.3" r="0.85" fill="#3a7fcc"/>
<text x="227.70" y="439.75" font-size="4.1" fill="#111" textLength="15.20" lengthAdjust="spacingAndGlyphs" stroke="#111" stroke-width="0.14">% CMS2</text>
<circle cx="251.3" cy="438.3" r="0.85" fill="#b8b8b8"/>
<text x="252.70" y="439.75" font-size="4.1" fill="#111" textLength="15.50" lengthAdjust="spacingAndGlyphs" stroke="#111" stroke-width="0.14">% CMS3</text>
<circle cx="275.7" cy="438.3" r="0.85" fill="#72b443"/>
<text x="277.10" y="439.75" font-size="4.1" fill="#111" textLength="16.50" lengthAdjust="spacingAndGlyphs" stroke="#111" stroke-width="0.14">% CMS4</text>
</g>
</svg></body></html>
